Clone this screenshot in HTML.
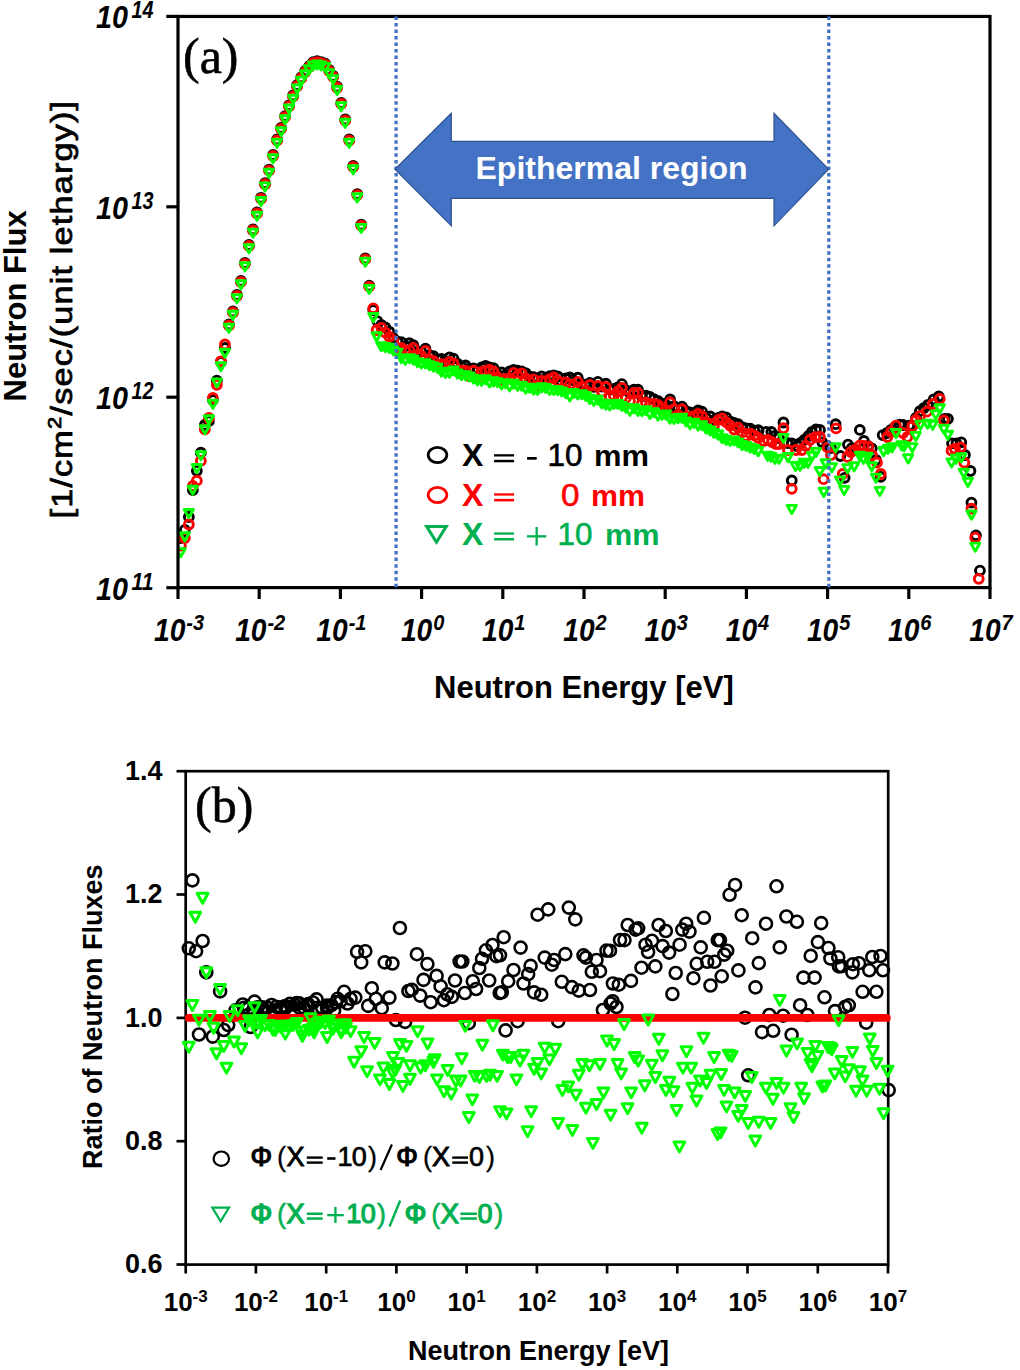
<!DOCTYPE html>
<html><head><meta charset="utf-8"><style>html,body{margin:0;padding:0;background:#fff;width:1020px;height:1370px;overflow:hidden}</style></head>
<body>
<svg width="1020" height="1370" viewBox="0 0 1020 1370" style="display:block">
<rect width="1020" height="1370" fill="#fff"/>
<clipPath id="clipA"><rect x="178.0" y="16.45" width="812.0" height="571.15"/></clipPath>
<g clip-path="url(#clipA)" fill="none">
<path d="M176.4,538.0a4.45,4.45 0 1,0 8.9,0a4.45,4.45 0 1,0 -8.9,0M180.4,530.0a4.45,4.45 0 1,0 8.9,0a4.45,4.45 0 1,0 -8.9,0M184.4,517.0a4.45,4.45 0 1,0 8.9,0a4.45,4.45 0 1,0 -8.9,0M188.4,490.0a4.45,4.45 0 1,0 8.9,0a4.45,4.45 0 1,0 -8.9,0M192.4,470.8a4.45,4.45 0 1,0 8.9,0a4.45,4.45 0 1,0 -8.9,0M196.4,452.7a4.45,4.45 0 1,0 8.9,0a4.45,4.45 0 1,0 -8.9,0M200.4,425.0a4.45,4.45 0 1,0 8.9,0a4.45,4.45 0 1,0 -8.9,0M204.4,421.2a4.45,4.45 0 1,0 8.9,0a4.45,4.45 0 1,0 -8.9,0M208.4,400.0a4.45,4.45 0 1,0 8.9,0a4.45,4.45 0 1,0 -8.9,0M212.4,380.7a4.45,4.45 0 1,0 8.9,0a4.45,4.45 0 1,0 -8.9,0M216.5,362.0a4.45,4.45 0 1,0 8.9,0a4.45,4.45 0 1,0 -8.9,0M220.5,348.0a4.45,4.45 0 1,0 8.9,0a4.45,4.45 0 1,0 -8.9,0M224.5,324.5a4.45,4.45 0 1,0 8.9,0a4.45,4.45 0 1,0 -8.9,0M228.5,311.5a4.45,4.45 0 1,0 8.9,0a4.45,4.45 0 1,0 -8.9,0M232.5,295.0a4.45,4.45 0 1,0 8.9,0a4.45,4.45 0 1,0 -8.9,0M236.5,281.0a4.45,4.45 0 1,0 8.9,0a4.45,4.45 0 1,0 -8.9,0M240.5,263.0a4.45,4.45 0 1,0 8.9,0a4.45,4.45 0 1,0 -8.9,0M244.5,245.0a4.45,4.45 0 1,0 8.9,0a4.45,4.45 0 1,0 -8.9,0M248.5,229.4a4.45,4.45 0 1,0 8.9,0a4.45,4.45 0 1,0 -8.9,0M252.5,212.5a4.45,4.45 0 1,0 8.9,0a4.45,4.45 0 1,0 -8.9,0M256.6,197.8a4.45,4.45 0 1,0 8.9,0a4.45,4.45 0 1,0 -8.9,0M260.6,183.2a4.45,4.45 0 1,0 8.9,0a4.45,4.45 0 1,0 -8.9,0M264.6,169.6a4.45,4.45 0 1,0 8.9,0a4.45,4.45 0 1,0 -8.9,0M268.6,155.0a4.45,4.45 0 1,0 8.9,0a4.45,4.45 0 1,0 -8.9,0M272.6,139.5a4.45,4.45 0 1,0 8.9,0a4.45,4.45 0 1,0 -8.9,0M276.6,127.9a4.45,4.45 0 1,0 8.9,0a4.45,4.45 0 1,0 -8.9,0M280.6,116.1a4.45,4.45 0 1,0 8.9,0a4.45,4.45 0 1,0 -8.9,0M284.6,105.3a4.45,4.45 0 1,0 8.9,0a4.45,4.45 0 1,0 -8.9,0M288.6,95.5a4.45,4.45 0 1,0 8.9,0a4.45,4.45 0 1,0 -8.9,0M292.6,85.2a4.45,4.45 0 1,0 8.9,0a4.45,4.45 0 1,0 -8.9,0M296.7,77.4a4.45,4.45 0 1,0 8.9,0a4.45,4.45 0 1,0 -8.9,0M300.7,71.0a4.45,4.45 0 1,0 8.9,0a4.45,4.45 0 1,0 -8.9,0M304.7,66.1a4.45,4.45 0 1,0 8.9,0a4.45,4.45 0 1,0 -8.9,0M308.7,62.2a4.45,4.45 0 1,0 8.9,0a4.45,4.45 0 1,0 -8.9,0M312.7,61.2a4.45,4.45 0 1,0 8.9,0a4.45,4.45 0 1,0 -8.9,0M316.7,62.2a4.45,4.45 0 1,0 8.9,0a4.45,4.45 0 1,0 -8.9,0M320.7,63.7a4.45,4.45 0 1,0 8.9,0a4.45,4.45 0 1,0 -8.9,0M324.7,70.0a4.45,4.45 0 1,0 8.9,0a4.45,4.45 0 1,0 -8.9,0M328.7,75.9a4.45,4.45 0 1,0 8.9,0a4.45,4.45 0 1,0 -8.9,0M332.7,86.7a4.45,4.45 0 1,0 8.9,0a4.45,4.45 0 1,0 -8.9,0M336.8,102.9a4.45,4.45 0 1,0 8.9,0a4.45,4.45 0 1,0 -8.9,0M340.8,119.5a4.45,4.45 0 1,0 8.9,0a4.45,4.45 0 1,0 -8.9,0M344.8,139.5a4.45,4.45 0 1,0 8.9,0a4.45,4.45 0 1,0 -8.9,0M348.8,166.0a4.45,4.45 0 1,0 8.9,0a4.45,4.45 0 1,0 -8.9,0M352.8,194.1a4.45,4.45 0 1,0 8.9,0a4.45,4.45 0 1,0 -8.9,0M356.8,224.7a4.45,4.45 0 1,0 8.9,0a4.45,4.45 0 1,0 -8.9,0M360.8,258.4a4.45,4.45 0 1,0 8.9,0a4.45,4.45 0 1,0 -8.9,0M364.8,285.7a4.45,4.45 0 1,0 8.9,0a4.45,4.45 0 1,0 -8.9,0M368.8,310.0a4.45,4.45 0 1,0 8.9,0a4.45,4.45 0 1,0 -8.9,0M372.9,321.1a4.45,4.45 0 1,0 8.9,0a4.45,4.45 0 1,0 -8.9,0M376.9,324.9a4.45,4.45 0 1,0 8.9,0a4.45,4.45 0 1,0 -8.9,0M380.9,327.4a4.45,4.45 0 1,0 8.9,0a4.45,4.45 0 1,0 -8.9,0M384.9,331.7a4.45,4.45 0 1,0 8.9,0a4.45,4.45 0 1,0 -8.9,0M388.9,338.1a4.45,4.45 0 1,0 8.9,0a4.45,4.45 0 1,0 -8.9,0M392.9,341.3a4.45,4.45 0 1,0 8.9,0a4.45,4.45 0 1,0 -8.9,0M396.9,342.2a4.45,4.45 0 1,0 8.9,0a4.45,4.45 0 1,0 -8.9,0M400.9,346.2a4.45,4.45 0 1,0 8.9,0a4.45,4.45 0 1,0 -8.9,0M404.9,343.2a4.45,4.45 0 1,0 8.9,0a4.45,4.45 0 1,0 -8.9,0M408.9,345.2a4.45,4.45 0 1,0 8.9,0a4.45,4.45 0 1,0 -8.9,0M412.9,351.7a4.45,4.45 0 1,0 8.9,0a4.45,4.45 0 1,0 -8.9,0M416.9,351.7a4.45,4.45 0 1,0 8.9,0a4.45,4.45 0 1,0 -8.9,0M421.0,348.7a4.45,4.45 0 1,0 8.9,0a4.45,4.45 0 1,0 -8.9,0M425.0,355.2a4.45,4.45 0 1,0 8.9,0a4.45,4.45 0 1,0 -8.9,0M429.0,356.1a4.45,4.45 0 1,0 8.9,0a4.45,4.45 0 1,0 -8.9,0M433.0,359.3a4.45,4.45 0 1,0 8.9,0a4.45,4.45 0 1,0 -8.9,0M437.0,359.0a4.45,4.45 0 1,0 8.9,0a4.45,4.45 0 1,0 -8.9,0M441.0,361.2a4.45,4.45 0 1,0 8.9,0a4.45,4.45 0 1,0 -8.9,0M445.0,357.3a4.45,4.45 0 1,0 8.9,0a4.45,4.45 0 1,0 -8.9,0M449.0,358.6a4.45,4.45 0 1,0 8.9,0a4.45,4.45 0 1,0 -8.9,0M453.0,363.7a4.45,4.45 0 1,0 8.9,0a4.45,4.45 0 1,0 -8.9,0M457.1,366.5a4.45,4.45 0 1,0 8.9,0a4.45,4.45 0 1,0 -8.9,0M461.1,365.4a4.45,4.45 0 1,0 8.9,0a4.45,4.45 0 1,0 -8.9,0M465.1,368.6a4.45,4.45 0 1,0 8.9,0a4.45,4.45 0 1,0 -8.9,0M469.1,368.4a4.45,4.45 0 1,0 8.9,0a4.45,4.45 0 1,0 -8.9,0M473.1,369.4a4.45,4.45 0 1,0 8.9,0a4.45,4.45 0 1,0 -8.9,0M477.1,367.5a4.45,4.45 0 1,0 8.9,0a4.45,4.45 0 1,0 -8.9,0M481.1,366.0a4.45,4.45 0 1,0 8.9,0a4.45,4.45 0 1,0 -8.9,0M485.1,367.4a4.45,4.45 0 1,0 8.9,0a4.45,4.45 0 1,0 -8.9,0M489.1,368.1a4.45,4.45 0 1,0 8.9,0a4.45,4.45 0 1,0 -8.9,0M493.1,374.6a4.45,4.45 0 1,0 8.9,0a4.45,4.45 0 1,0 -8.9,0M497.1,372.5a4.45,4.45 0 1,0 8.9,0a4.45,4.45 0 1,0 -8.9,0M501.2,375.2a4.45,4.45 0 1,0 8.9,0a4.45,4.45 0 1,0 -8.9,0M505.2,371.4a4.45,4.45 0 1,0 8.9,0a4.45,4.45 0 1,0 -8.9,0M509.2,369.9a4.45,4.45 0 1,0 8.9,0a4.45,4.45 0 1,0 -8.9,0M513.2,370.7a4.45,4.45 0 1,0 8.9,0a4.45,4.45 0 1,0 -8.9,0M517.2,371.4a4.45,4.45 0 1,0 8.9,0a4.45,4.45 0 1,0 -8.9,0M521.2,373.1a4.45,4.45 0 1,0 8.9,0a4.45,4.45 0 1,0 -8.9,0M525.2,376.5a4.45,4.45 0 1,0 8.9,0a4.45,4.45 0 1,0 -8.9,0M529.2,377.1a4.45,4.45 0 1,0 8.9,0a4.45,4.45 0 1,0 -8.9,0M533.2,378.8a4.45,4.45 0 1,0 8.9,0a4.45,4.45 0 1,0 -8.9,0M537.2,376.4a4.45,4.45 0 1,0 8.9,0a4.45,4.45 0 1,0 -8.9,0M541.3,378.9a4.45,4.45 0 1,0 8.9,0a4.45,4.45 0 1,0 -8.9,0M545.3,376.1a4.45,4.45 0 1,0 8.9,0a4.45,4.45 0 1,0 -8.9,0M549.3,375.5a4.45,4.45 0 1,0 8.9,0a4.45,4.45 0 1,0 -8.9,0M553.3,376.5a4.45,4.45 0 1,0 8.9,0a4.45,4.45 0 1,0 -8.9,0M557.3,383.1a4.45,4.45 0 1,0 8.9,0a4.45,4.45 0 1,0 -8.9,0M561.3,378.3a4.45,4.45 0 1,0 8.9,0a4.45,4.45 0 1,0 -8.9,0M565.3,377.5a4.45,4.45 0 1,0 8.9,0a4.45,4.45 0 1,0 -8.9,0M569.3,380.4a4.45,4.45 0 1,0 8.9,0a4.45,4.45 0 1,0 -8.9,0M573.3,377.7a4.45,4.45 0 1,0 8.9,0a4.45,4.45 0 1,0 -8.9,0M577.3,383.9a4.45,4.45 0 1,0 8.9,0a4.45,4.45 0 1,0 -8.9,0M581.4,385.5a4.45,4.45 0 1,0 8.9,0a4.45,4.45 0 1,0 -8.9,0M585.4,382.8a4.45,4.45 0 1,0 8.9,0a4.45,4.45 0 1,0 -8.9,0M589.4,386.9a4.45,4.45 0 1,0 8.9,0a4.45,4.45 0 1,0 -8.9,0M593.4,381.8a4.45,4.45 0 1,0 8.9,0a4.45,4.45 0 1,0 -8.9,0M597.4,386.5a4.45,4.45 0 1,0 8.9,0a4.45,4.45 0 1,0 -8.9,0M601.4,383.7a4.45,4.45 0 1,0 8.9,0a4.45,4.45 0 1,0 -8.9,0M605.4,389.6a4.45,4.45 0 1,0 8.9,0a4.45,4.45 0 1,0 -8.9,0M609.4,389.0a4.45,4.45 0 1,0 8.9,0a4.45,4.45 0 1,0 -8.9,0M613.4,387.3a4.45,4.45 0 1,0 8.9,0a4.45,4.45 0 1,0 -8.9,0M617.4,384.1a4.45,4.45 0 1,0 8.9,0a4.45,4.45 0 1,0 -8.9,0M621.5,390.2a4.45,4.45 0 1,0 8.9,0a4.45,4.45 0 1,0 -8.9,0M625.5,393.1a4.45,4.45 0 1,0 8.9,0a4.45,4.45 0 1,0 -8.9,0M629.5,389.7a4.45,4.45 0 1,0 8.9,0a4.45,4.45 0 1,0 -8.9,0M633.5,389.6a4.45,4.45 0 1,0 8.9,0a4.45,4.45 0 1,0 -8.9,0M637.5,396.4a4.45,4.45 0 1,0 8.9,0a4.45,4.45 0 1,0 -8.9,0M641.5,395.6a4.45,4.45 0 1,0 8.9,0a4.45,4.45 0 1,0 -8.9,0M645.5,397.0a4.45,4.45 0 1,0 8.9,0a4.45,4.45 0 1,0 -8.9,0M649.5,399.1a4.45,4.45 0 1,0 8.9,0a4.45,4.45 0 1,0 -8.9,0M653.5,400.8a4.45,4.45 0 1,0 8.9,0a4.45,4.45 0 1,0 -8.9,0M657.5,403.7a4.45,4.45 0 1,0 8.9,0a4.45,4.45 0 1,0 -8.9,0M661.6,404.9a4.45,4.45 0 1,0 8.9,0a4.45,4.45 0 1,0 -8.9,0M665.6,399.5a4.45,4.45 0 1,0 8.9,0a4.45,4.45 0 1,0 -8.9,0M669.6,406.2a4.45,4.45 0 1,0 8.9,0a4.45,4.45 0 1,0 -8.9,0M673.6,408.8a4.45,4.45 0 1,0 8.9,0a4.45,4.45 0 1,0 -8.9,0M677.6,406.6a4.45,4.45 0 1,0 8.9,0a4.45,4.45 0 1,0 -8.9,0M681.6,411.2a4.45,4.45 0 1,0 8.9,0a4.45,4.45 0 1,0 -8.9,0M685.6,412.3a4.45,4.45 0 1,0 8.9,0a4.45,4.45 0 1,0 -8.9,0M689.6,413.1a4.45,4.45 0 1,0 8.9,0a4.45,4.45 0 1,0 -8.9,0M693.6,410.5a4.45,4.45 0 1,0 8.9,0a4.45,4.45 0 1,0 -8.9,0M697.6,411.6a4.45,4.45 0 1,0 8.9,0a4.45,4.45 0 1,0 -8.9,0M701.7,417.9a4.45,4.45 0 1,0 8.9,0a4.45,4.45 0 1,0 -8.9,0M705.7,416.4a4.45,4.45 0 1,0 8.9,0a4.45,4.45 0 1,0 -8.9,0M709.7,420.1a4.45,4.45 0 1,0 8.9,0a4.45,4.45 0 1,0 -8.9,0M713.7,418.0a4.45,4.45 0 1,0 8.9,0a4.45,4.45 0 1,0 -8.9,0M717.7,416.4a4.45,4.45 0 1,0 8.9,0a4.45,4.45 0 1,0 -8.9,0M721.7,417.4a4.45,4.45 0 1,0 8.9,0a4.45,4.45 0 1,0 -8.9,0M725.7,421.5a4.45,4.45 0 1,0 8.9,0a4.45,4.45 0 1,0 -8.9,0M729.7,422.8a4.45,4.45 0 1,0 8.9,0a4.45,4.45 0 1,0 -8.9,0M733.7,424.2a4.45,4.45 0 1,0 8.9,0a4.45,4.45 0 1,0 -8.9,0M737.8,427.2a4.45,4.45 0 1,0 8.9,0a4.45,4.45 0 1,0 -8.9,0M741.8,428.5a4.45,4.45 0 1,0 8.9,0a4.45,4.45 0 1,0 -8.9,0M745.8,428.6a4.45,4.45 0 1,0 8.9,0a4.45,4.45 0 1,0 -8.9,0M749.8,430.6a4.45,4.45 0 1,0 8.9,0a4.45,4.45 0 1,0 -8.9,0M753.8,430.2a4.45,4.45 0 1,0 8.9,0a4.45,4.45 0 1,0 -8.9,0M754.1,430.8a4.45,4.45 0 1,0 8.9,0a4.45,4.45 0 1,0 -8.9,0M761.5,432.0a4.45,4.45 0 1,0 8.9,0a4.45,4.45 0 1,0 -8.9,0M766.9,432.0a4.45,4.45 0 1,0 8.9,0a4.45,4.45 0 1,0 -8.9,0M770.5,436.0a4.45,4.45 0 1,0 8.9,0a4.45,4.45 0 1,0 -8.9,0M774.5,438.0a4.45,4.45 0 1,0 8.9,0a4.45,4.45 0 1,0 -8.9,0M779.0,422.5a4.45,4.45 0 1,0 8.9,0a4.45,4.45 0 1,0 -8.9,0M783.0,443.0a4.45,4.45 0 1,0 8.9,0a4.45,4.45 0 1,0 -8.9,0M787.3,443.5a4.45,4.45 0 1,0 8.9,0a4.45,4.45 0 1,0 -8.9,0M787.3,480.5a4.45,4.45 0 1,0 8.9,0a4.45,4.45 0 1,0 -8.9,0M792.4,446.0a4.45,4.45 0 1,0 8.9,0a4.45,4.45 0 1,0 -8.9,0M796.0,443.0a4.45,4.45 0 1,0 8.9,0a4.45,4.45 0 1,0 -8.9,0M800.0,439.7a4.45,4.45 0 1,0 8.9,0a4.45,4.45 0 1,0 -8.9,0M804.0,436.0a4.45,4.45 0 1,0 8.9,0a4.45,4.45 0 1,0 -8.9,0M807.5,432.0a4.45,4.45 0 1,0 8.9,0a4.45,4.45 0 1,0 -8.9,0M811.5,429.5a4.45,4.45 0 1,0 8.9,0a4.45,4.45 0 1,0 -8.9,0M815.5,430.0a4.45,4.45 0 1,0 8.9,0a4.45,4.45 0 1,0 -8.9,0M817.9,442.3a4.45,4.45 0 1,0 8.9,0a4.45,4.45 0 1,0 -8.9,0M822.5,446.0a4.45,4.45 0 1,0 8.9,0a4.45,4.45 0 1,0 -8.9,0M826.5,448.0a4.45,4.45 0 1,0 8.9,0a4.45,4.45 0 1,0 -8.9,0M831.2,424.2a4.45,4.45 0 1,0 8.9,0a4.45,4.45 0 1,0 -8.9,0M835.9,456.0a4.45,4.45 0 1,0 8.9,0a4.45,4.45 0 1,0 -8.9,0M840.2,477.8a4.45,4.45 0 1,0 8.9,0a4.45,4.45 0 1,0 -8.9,0M843.5,444.6a4.45,4.45 0 1,0 8.9,0a4.45,4.45 0 1,0 -8.9,0M847.5,448.0a4.45,4.45 0 1,0 8.9,0a4.45,4.45 0 1,0 -8.9,0M851.5,450.0a4.45,4.45 0 1,0 8.9,0a4.45,4.45 0 1,0 -8.9,0M855.4,429.9a4.45,4.45 0 1,0 8.9,0a4.45,4.45 0 1,0 -8.9,0M859.5,441.0a4.45,4.45 0 1,0 8.9,0a4.45,4.45 0 1,0 -8.9,0M863.5,446.0a4.45,4.45 0 1,0 8.9,0a4.45,4.45 0 1,0 -8.9,0M867.3,448.4a4.45,4.45 0 1,0 8.9,0a4.45,4.45 0 1,0 -8.9,0M871.5,460.0a4.45,4.45 0 1,0 8.9,0a4.45,4.45 0 1,0 -8.9,0M876.3,476.9a4.45,4.45 0 1,0 8.9,0a4.45,4.45 0 1,0 -8.9,0M878.2,435.1a4.45,4.45 0 1,0 8.9,0a4.45,4.45 0 1,0 -8.9,0M882.5,433.0a4.45,4.45 0 1,0 8.9,0a4.45,4.45 0 1,0 -8.9,0M886.5,430.0a4.45,4.45 0 1,0 8.9,0a4.45,4.45 0 1,0 -8.9,0M890.5,427.0a4.45,4.45 0 1,0 8.9,0a4.45,4.45 0 1,0 -8.9,0M895.3,424.6a4.45,4.45 0 1,0 8.9,0a4.45,4.45 0 1,0 -8.9,0M898.6,425.0a4.45,4.45 0 1,0 8.9,0a4.45,4.45 0 1,0 -8.9,0M904.8,425.6a4.45,4.45 0 1,0 8.9,0a4.45,4.45 0 1,0 -8.9,0M907.8,426.0a4.45,4.45 0 1,0 8.9,0a4.45,4.45 0 1,0 -8.9,0M911.5,418.0a4.45,4.45 0 1,0 8.9,0a4.45,4.45 0 1,0 -8.9,0M915.4,411.2a4.45,4.45 0 1,0 8.9,0a4.45,4.45 0 1,0 -8.9,0M919.5,408.0a4.45,4.45 0 1,0 8.9,0a4.45,4.45 0 1,0 -8.9,0M923.5,405.0a4.45,4.45 0 1,0 8.9,0a4.45,4.45 0 1,0 -8.9,0M929.2,399.4a4.45,4.45 0 1,0 8.9,0a4.45,4.45 0 1,0 -8.9,0M934.3,396.5a4.45,4.45 0 1,0 8.9,0a4.45,4.45 0 1,0 -8.9,0M940.2,418.8a4.45,4.45 0 1,0 8.9,0a4.45,4.45 0 1,0 -8.9,0M943.5,418.8a4.45,4.45 0 1,0 8.9,0a4.45,4.45 0 1,0 -8.9,0M947.6,443.3a4.45,4.45 0 1,0 8.9,0a4.45,4.45 0 1,0 -8.9,0M952.0,443.5a4.45,4.45 0 1,0 8.9,0a4.45,4.45 0 1,0 -8.9,0M956.8,442.3a4.45,4.45 0 1,0 8.9,0a4.45,4.45 0 1,0 -8.9,0M960.5,455.0a4.45,4.45 0 1,0 8.9,0a4.45,4.45 0 1,0 -8.9,0M966.0,471.0a4.45,4.45 0 1,0 8.9,0a4.45,4.45 0 1,0 -8.9,0M967.0,502.6a4.45,4.45 0 1,0 8.9,0a4.45,4.45 0 1,0 -8.9,0M971.5,535.3a4.45,4.45 0 1,0 8.9,0a4.45,4.45 0 1,0 -8.9,0M975.5,570.6a4.45,4.45 0 1,0 8.9,0a4.45,4.45 0 1,0 -8.9,0" stroke="#000" stroke-width="2.9"/>
<path d="M176.4,545.5a4.45,4.45 0 1,0 8.9,0a4.45,4.45 0 1,0 -8.9,0M180.4,538.0a4.45,4.45 0 1,0 8.9,0a4.45,4.45 0 1,0 -8.9,0M184.4,524.5a4.45,4.45 0 1,0 8.9,0a4.45,4.45 0 1,0 -8.9,0M188.4,486.0a4.45,4.45 0 1,0 8.9,0a4.45,4.45 0 1,0 -8.9,0M192.4,480.7a4.45,4.45 0 1,0 8.9,0a4.45,4.45 0 1,0 -8.9,0M196.4,460.9a4.45,4.45 0 1,0 8.9,0a4.45,4.45 0 1,0 -8.9,0M200.4,429.3a4.45,4.45 0 1,0 8.9,0a4.45,4.45 0 1,0 -8.9,0M204.4,418.0a4.45,4.45 0 1,0 8.9,0a4.45,4.45 0 1,0 -8.9,0M208.4,398.0a4.45,4.45 0 1,0 8.9,0a4.45,4.45 0 1,0 -8.9,0M212.4,384.8a4.45,4.45 0 1,0 8.9,0a4.45,4.45 0 1,0 -8.9,0M216.5,361.3a4.45,4.45 0 1,0 8.9,0a4.45,4.45 0 1,0 -8.9,0M220.5,344.4a4.45,4.45 0 1,0 8.9,0a4.45,4.45 0 1,0 -8.9,0M224.5,325.5a4.45,4.45 0 1,0 8.9,0a4.45,4.45 0 1,0 -8.9,0M228.5,312.5a4.45,4.45 0 1,0 8.9,0a4.45,4.45 0 1,0 -8.9,0M232.5,296.0a4.45,4.45 0 1,0 8.9,0a4.45,4.45 0 1,0 -8.9,0M236.5,282.0a4.45,4.45 0 1,0 8.9,0a4.45,4.45 0 1,0 -8.9,0M240.5,264.0a4.45,4.45 0 1,0 8.9,0a4.45,4.45 0 1,0 -8.9,0M244.5,246.0a4.45,4.45 0 1,0 8.9,0a4.45,4.45 0 1,0 -8.9,0M248.5,230.4a4.45,4.45 0 1,0 8.9,0a4.45,4.45 0 1,0 -8.9,0M252.5,213.5a4.45,4.45 0 1,0 8.9,0a4.45,4.45 0 1,0 -8.9,0M256.6,198.8a4.45,4.45 0 1,0 8.9,0a4.45,4.45 0 1,0 -8.9,0M260.6,184.2a4.45,4.45 0 1,0 8.9,0a4.45,4.45 0 1,0 -8.9,0M264.6,170.6a4.45,4.45 0 1,0 8.9,0a4.45,4.45 0 1,0 -8.9,0M268.6,156.0a4.45,4.45 0 1,0 8.9,0a4.45,4.45 0 1,0 -8.9,0M272.6,140.5a4.45,4.45 0 1,0 8.9,0a4.45,4.45 0 1,0 -8.9,0M276.6,128.9a4.45,4.45 0 1,0 8.9,0a4.45,4.45 0 1,0 -8.9,0M280.6,117.1a4.45,4.45 0 1,0 8.9,0a4.45,4.45 0 1,0 -8.9,0M284.6,106.3a4.45,4.45 0 1,0 8.9,0a4.45,4.45 0 1,0 -8.9,0M288.6,96.5a4.45,4.45 0 1,0 8.9,0a4.45,4.45 0 1,0 -8.9,0M292.6,86.2a4.45,4.45 0 1,0 8.9,0a4.45,4.45 0 1,0 -8.9,0M296.7,78.4a4.45,4.45 0 1,0 8.9,0a4.45,4.45 0 1,0 -8.9,0M300.7,72.0a4.45,4.45 0 1,0 8.9,0a4.45,4.45 0 1,0 -8.9,0M304.7,67.1a4.45,4.45 0 1,0 8.9,0a4.45,4.45 0 1,0 -8.9,0M308.7,63.2a4.45,4.45 0 1,0 8.9,0a4.45,4.45 0 1,0 -8.9,0M312.7,62.2a4.45,4.45 0 1,0 8.9,0a4.45,4.45 0 1,0 -8.9,0M316.7,63.2a4.45,4.45 0 1,0 8.9,0a4.45,4.45 0 1,0 -8.9,0M320.7,64.7a4.45,4.45 0 1,0 8.9,0a4.45,4.45 0 1,0 -8.9,0M324.7,71.0a4.45,4.45 0 1,0 8.9,0a4.45,4.45 0 1,0 -8.9,0M328.7,76.9a4.45,4.45 0 1,0 8.9,0a4.45,4.45 0 1,0 -8.9,0M332.7,87.7a4.45,4.45 0 1,0 8.9,0a4.45,4.45 0 1,0 -8.9,0M336.8,103.9a4.45,4.45 0 1,0 8.9,0a4.45,4.45 0 1,0 -8.9,0M340.8,120.5a4.45,4.45 0 1,0 8.9,0a4.45,4.45 0 1,0 -8.9,0M344.8,140.5a4.45,4.45 0 1,0 8.9,0a4.45,4.45 0 1,0 -8.9,0M348.8,167.0a4.45,4.45 0 1,0 8.9,0a4.45,4.45 0 1,0 -8.9,0M352.8,195.1a4.45,4.45 0 1,0 8.9,0a4.45,4.45 0 1,0 -8.9,0M356.8,225.7a4.45,4.45 0 1,0 8.9,0a4.45,4.45 0 1,0 -8.9,0M360.8,259.4a4.45,4.45 0 1,0 8.9,0a4.45,4.45 0 1,0 -8.9,0M364.8,286.7a4.45,4.45 0 1,0 8.9,0a4.45,4.45 0 1,0 -8.9,0M368.8,308.3a4.45,4.45 0 1,0 8.9,0a4.45,4.45 0 1,0 -8.9,0M372.2,330.0a4.45,4.45 0 1,0 8.9,0a4.45,4.45 0 1,0 -8.9,0M376.9,327.8a4.45,4.45 0 1,0 8.9,0a4.45,4.45 0 1,0 -8.9,0M380.9,332.6a4.45,4.45 0 1,0 8.9,0a4.45,4.45 0 1,0 -8.9,0M384.9,336.8a4.45,4.45 0 1,0 8.9,0a4.45,4.45 0 1,0 -8.9,0M388.9,340.6a4.45,4.45 0 1,0 8.9,0a4.45,4.45 0 1,0 -8.9,0M392.9,348.2a4.45,4.45 0 1,0 8.9,0a4.45,4.45 0 1,0 -8.9,0M396.9,348.0a4.45,4.45 0 1,0 8.9,0a4.45,4.45 0 1,0 -8.9,0M400.9,350.6a4.45,4.45 0 1,0 8.9,0a4.45,4.45 0 1,0 -8.9,0M404.9,350.3a4.45,4.45 0 1,0 8.9,0a4.45,4.45 0 1,0 -8.9,0M408.9,347.9a4.45,4.45 0 1,0 8.9,0a4.45,4.45 0 1,0 -8.9,0M412.9,354.8a4.45,4.45 0 1,0 8.9,0a4.45,4.45 0 1,0 -8.9,0M416.9,355.9a4.45,4.45 0 1,0 8.9,0a4.45,4.45 0 1,0 -8.9,0M421.0,351.0a4.45,4.45 0 1,0 8.9,0a4.45,4.45 0 1,0 -8.9,0M425.0,359.8a4.45,4.45 0 1,0 8.9,0a4.45,4.45 0 1,0 -8.9,0M429.0,360.8a4.45,4.45 0 1,0 8.9,0a4.45,4.45 0 1,0 -8.9,0M433.0,365.5a4.45,4.45 0 1,0 8.9,0a4.45,4.45 0 1,0 -8.9,0M437.0,364.1a4.45,4.45 0 1,0 8.9,0a4.45,4.45 0 1,0 -8.9,0M441.0,364.9a4.45,4.45 0 1,0 8.9,0a4.45,4.45 0 1,0 -8.9,0M445.0,361.8a4.45,4.45 0 1,0 8.9,0a4.45,4.45 0 1,0 -8.9,0M449.0,363.5a4.45,4.45 0 1,0 8.9,0a4.45,4.45 0 1,0 -8.9,0M453.0,370.3a4.45,4.45 0 1,0 8.9,0a4.45,4.45 0 1,0 -8.9,0M457.1,370.3a4.45,4.45 0 1,0 8.9,0a4.45,4.45 0 1,0 -8.9,0M461.1,370.9a4.45,4.45 0 1,0 8.9,0a4.45,4.45 0 1,0 -8.9,0M465.1,376.2a4.45,4.45 0 1,0 8.9,0a4.45,4.45 0 1,0 -8.9,0M469.1,370.7a4.45,4.45 0 1,0 8.9,0a4.45,4.45 0 1,0 -8.9,0M473.1,377.4a4.45,4.45 0 1,0 8.9,0a4.45,4.45 0 1,0 -8.9,0M477.1,371.8a4.45,4.45 0 1,0 8.9,0a4.45,4.45 0 1,0 -8.9,0M481.1,370.8a4.45,4.45 0 1,0 8.9,0a4.45,4.45 0 1,0 -8.9,0M485.1,369.7a4.45,4.45 0 1,0 8.9,0a4.45,4.45 0 1,0 -8.9,0M489.1,371.6a4.45,4.45 0 1,0 8.9,0a4.45,4.45 0 1,0 -8.9,0M493.1,377.1a4.45,4.45 0 1,0 8.9,0a4.45,4.45 0 1,0 -8.9,0M497.1,379.8a4.45,4.45 0 1,0 8.9,0a4.45,4.45 0 1,0 -8.9,0M501.2,378.9a4.45,4.45 0 1,0 8.9,0a4.45,4.45 0 1,0 -8.9,0M505.2,378.7a4.45,4.45 0 1,0 8.9,0a4.45,4.45 0 1,0 -8.9,0M509.2,372.9a4.45,4.45 0 1,0 8.9,0a4.45,4.45 0 1,0 -8.9,0M513.2,375.7a4.45,4.45 0 1,0 8.9,0a4.45,4.45 0 1,0 -8.9,0M517.2,373.5a4.45,4.45 0 1,0 8.9,0a4.45,4.45 0 1,0 -8.9,0M521.2,378.5a4.45,4.45 0 1,0 8.9,0a4.45,4.45 0 1,0 -8.9,0M525.2,381.6a4.45,4.45 0 1,0 8.9,0a4.45,4.45 0 1,0 -8.9,0M529.2,379.5a4.45,4.45 0 1,0 8.9,0a4.45,4.45 0 1,0 -8.9,0M533.2,386.0a4.45,4.45 0 1,0 8.9,0a4.45,4.45 0 1,0 -8.9,0M537.2,380.8a4.45,4.45 0 1,0 8.9,0a4.45,4.45 0 1,0 -8.9,0M541.3,381.3a4.45,4.45 0 1,0 8.9,0a4.45,4.45 0 1,0 -8.9,0M545.3,379.1a4.45,4.45 0 1,0 8.9,0a4.45,4.45 0 1,0 -8.9,0M549.3,377.5a4.45,4.45 0 1,0 8.9,0a4.45,4.45 0 1,0 -8.9,0M553.3,380.7a4.45,4.45 0 1,0 8.9,0a4.45,4.45 0 1,0 -8.9,0M557.3,388.8a4.45,4.45 0 1,0 8.9,0a4.45,4.45 0 1,0 -8.9,0M561.3,382.4a4.45,4.45 0 1,0 8.9,0a4.45,4.45 0 1,0 -8.9,0M565.3,384.6a4.45,4.45 0 1,0 8.9,0a4.45,4.45 0 1,0 -8.9,0M569.3,385.3a4.45,4.45 0 1,0 8.9,0a4.45,4.45 0 1,0 -8.9,0M573.3,381.8a4.45,4.45 0 1,0 8.9,0a4.45,4.45 0 1,0 -8.9,0M577.3,386.9a4.45,4.45 0 1,0 8.9,0a4.45,4.45 0 1,0 -8.9,0M581.4,390.6a4.45,4.45 0 1,0 8.9,0a4.45,4.45 0 1,0 -8.9,0M585.4,385.0a4.45,4.45 0 1,0 8.9,0a4.45,4.45 0 1,0 -8.9,0M589.4,394.1a4.45,4.45 0 1,0 8.9,0a4.45,4.45 0 1,0 -8.9,0M593.4,386.0a4.45,4.45 0 1,0 8.9,0a4.45,4.45 0 1,0 -8.9,0M597.4,391.7a4.45,4.45 0 1,0 8.9,0a4.45,4.45 0 1,0 -8.9,0M601.4,387.0a4.45,4.45 0 1,0 8.9,0a4.45,4.45 0 1,0 -8.9,0M605.4,396.8a4.45,4.45 0 1,0 8.9,0a4.45,4.45 0 1,0 -8.9,0M609.4,395.5a4.45,4.45 0 1,0 8.9,0a4.45,4.45 0 1,0 -8.9,0M613.4,391.5a4.45,4.45 0 1,0 8.9,0a4.45,4.45 0 1,0 -8.9,0M617.4,387.8a4.45,4.45 0 1,0 8.9,0a4.45,4.45 0 1,0 -8.9,0M621.5,397.9a4.45,4.45 0 1,0 8.9,0a4.45,4.45 0 1,0 -8.9,0M625.5,401.0a4.45,4.45 0 1,0 8.9,0a4.45,4.45 0 1,0 -8.9,0M629.5,393.0a4.45,4.45 0 1,0 8.9,0a4.45,4.45 0 1,0 -8.9,0M633.5,392.8a4.45,4.45 0 1,0 8.9,0a4.45,4.45 0 1,0 -8.9,0M637.5,403.4a4.45,4.45 0 1,0 8.9,0a4.45,4.45 0 1,0 -8.9,0M641.5,402.4a4.45,4.45 0 1,0 8.9,0a4.45,4.45 0 1,0 -8.9,0M645.5,404.4a4.45,4.45 0 1,0 8.9,0a4.45,4.45 0 1,0 -8.9,0M649.5,404.0a4.45,4.45 0 1,0 8.9,0a4.45,4.45 0 1,0 -8.9,0M653.5,404.8a4.45,4.45 0 1,0 8.9,0a4.45,4.45 0 1,0 -8.9,0M657.5,408.1a4.45,4.45 0 1,0 8.9,0a4.45,4.45 0 1,0 -8.9,0M661.6,411.2a4.45,4.45 0 1,0 8.9,0a4.45,4.45 0 1,0 -8.9,0M665.6,402.5a4.45,4.45 0 1,0 8.9,0a4.45,4.45 0 1,0 -8.9,0M669.6,409.1a4.45,4.45 0 1,0 8.9,0a4.45,4.45 0 1,0 -8.9,0M673.6,414.8a4.45,4.45 0 1,0 8.9,0a4.45,4.45 0 1,0 -8.9,0M677.6,409.4a4.45,4.45 0 1,0 8.9,0a4.45,4.45 0 1,0 -8.9,0M681.6,417.1a4.45,4.45 0 1,0 8.9,0a4.45,4.45 0 1,0 -8.9,0M685.6,416.9a4.45,4.45 0 1,0 8.9,0a4.45,4.45 0 1,0 -8.9,0M689.6,416.4a4.45,4.45 0 1,0 8.9,0a4.45,4.45 0 1,0 -8.9,0M693.6,414.0a4.45,4.45 0 1,0 8.9,0a4.45,4.45 0 1,0 -8.9,0M697.6,416.1a4.45,4.45 0 1,0 8.9,0a4.45,4.45 0 1,0 -8.9,0M701.7,422.0a4.45,4.45 0 1,0 8.9,0a4.45,4.45 0 1,0 -8.9,0M705.7,423.8a4.45,4.45 0 1,0 8.9,0a4.45,4.45 0 1,0 -8.9,0M709.7,425.1a4.45,4.45 0 1,0 8.9,0a4.45,4.45 0 1,0 -8.9,0M713.7,420.1a4.45,4.45 0 1,0 8.9,0a4.45,4.45 0 1,0 -8.9,0M717.7,418.4a4.45,4.45 0 1,0 8.9,0a4.45,4.45 0 1,0 -8.9,0M721.7,422.2a4.45,4.45 0 1,0 8.9,0a4.45,4.45 0 1,0 -8.9,0M725.7,425.5a4.45,4.45 0 1,0 8.9,0a4.45,4.45 0 1,0 -8.9,0M729.7,429.5a4.45,4.45 0 1,0 8.9,0a4.45,4.45 0 1,0 -8.9,0M733.7,427.7a4.45,4.45 0 1,0 8.9,0a4.45,4.45 0 1,0 -8.9,0M737.8,432.3a4.45,4.45 0 1,0 8.9,0a4.45,4.45 0 1,0 -8.9,0M741.8,436.0a4.45,4.45 0 1,0 8.9,0a4.45,4.45 0 1,0 -8.9,0M745.8,433.7a4.45,4.45 0 1,0 8.9,0a4.45,4.45 0 1,0 -8.9,0M749.8,435.3a4.45,4.45 0 1,0 8.9,0a4.45,4.45 0 1,0 -8.9,0M753.8,437.9a4.45,4.45 0 1,0 8.9,0a4.45,4.45 0 1,0 -8.9,0M759.2,441.0a4.45,4.45 0 1,0 8.9,0a4.45,4.45 0 1,0 -8.9,0M763.5,440.0a4.45,4.45 0 1,0 8.9,0a4.45,4.45 0 1,0 -8.9,0M767.5,442.0a4.45,4.45 0 1,0 8.9,0a4.45,4.45 0 1,0 -8.9,0M771.5,444.0a4.45,4.45 0 1,0 8.9,0a4.45,4.45 0 1,0 -8.9,0M774.5,444.0a4.45,4.45 0 1,0 8.9,0a4.45,4.45 0 1,0 -8.9,0M779.0,428.2a4.45,4.45 0 1,0 8.9,0a4.45,4.45 0 1,0 -8.9,0M783.5,450.0a4.45,4.45 0 1,0 8.9,0a4.45,4.45 0 1,0 -8.9,0M787.3,488.8a4.45,4.45 0 1,0 8.9,0a4.45,4.45 0 1,0 -8.9,0M791.5,450.0a4.45,4.45 0 1,0 8.9,0a4.45,4.45 0 1,0 -8.9,0M797.5,450.0a4.45,4.45 0 1,0 8.9,0a4.45,4.45 0 1,0 -8.9,0M801.5,446.0a4.45,4.45 0 1,0 8.9,0a4.45,4.45 0 1,0 -8.9,0M805.5,440.0a4.45,4.45 0 1,0 8.9,0a4.45,4.45 0 1,0 -8.9,0M810.8,437.2a4.45,4.45 0 1,0 8.9,0a4.45,4.45 0 1,0 -8.9,0M815.5,437.0a4.45,4.45 0 1,0 8.9,0a4.45,4.45 0 1,0 -8.9,0M819.1,479.2a4.45,4.45 0 1,0 8.9,0a4.45,4.45 0 1,0 -8.9,0M823.1,447.4a4.45,4.45 0 1,0 8.9,0a4.45,4.45 0 1,0 -8.9,0M826.5,455.0a4.45,4.45 0 1,0 8.9,0a4.45,4.45 0 1,0 -8.9,0M831.6,428.4a4.45,4.45 0 1,0 8.9,0a4.45,4.45 0 1,0 -8.9,0M838.3,474.0a4.45,4.45 0 1,0 8.9,0a4.45,4.45 0 1,0 -8.9,0M843.0,456.9a4.45,4.45 0 1,0 8.9,0a4.45,4.45 0 1,0 -8.9,0M846.5,452.0a4.45,4.45 0 1,0 8.9,0a4.45,4.45 0 1,0 -8.9,0M850.5,450.0a4.45,4.45 0 1,0 8.9,0a4.45,4.45 0 1,0 -8.9,0M855.4,445.5a4.45,4.45 0 1,0 8.9,0a4.45,4.45 0 1,0 -8.9,0M859.5,446.0a4.45,4.45 0 1,0 8.9,0a4.45,4.45 0 1,0 -8.9,0M863.9,446.5a4.45,4.45 0 1,0 8.9,0a4.45,4.45 0 1,0 -8.9,0M867.5,455.0a4.45,4.45 0 1,0 8.9,0a4.45,4.45 0 1,0 -8.9,0M872.5,462.6a4.45,4.45 0 1,0 8.9,0a4.45,4.45 0 1,0 -8.9,0M876.3,474.0a4.45,4.45 0 1,0 8.9,0a4.45,4.45 0 1,0 -8.9,0M882.9,437.0a4.45,4.45 0 1,0 8.9,0a4.45,4.45 0 1,0 -8.9,0M886.5,432.0a4.45,4.45 0 1,0 8.9,0a4.45,4.45 0 1,0 -8.9,0M891.5,425.6a4.45,4.45 0 1,0 8.9,0a4.45,4.45 0 1,0 -8.9,0M898.6,433.0a4.45,4.45 0 1,0 8.9,0a4.45,4.45 0 1,0 -8.9,0M902.9,437.0a4.45,4.45 0 1,0 8.9,0a4.45,4.45 0 1,0 -8.9,0M907.8,426.0a4.45,4.45 0 1,0 8.9,0a4.45,4.45 0 1,0 -8.9,0M911.5,420.0a4.45,4.45 0 1,0 8.9,0a4.45,4.45 0 1,0 -8.9,0M915.5,416.0a4.45,4.45 0 1,0 8.9,0a4.45,4.45 0 1,0 -8.9,0M922.5,411.7a4.45,4.45 0 1,0 8.9,0a4.45,4.45 0 1,0 -8.9,0M928.5,404.0a4.45,4.45 0 1,0 8.9,0a4.45,4.45 0 1,0 -8.9,0M935.3,398.9a4.45,4.45 0 1,0 8.9,0a4.45,4.45 0 1,0 -8.9,0M939.4,420.4a4.45,4.45 0 1,0 8.9,0a4.45,4.45 0 1,0 -8.9,0M947.1,450.5a4.45,4.45 0 1,0 8.9,0a4.45,4.45 0 1,0 -8.9,0M950.5,449.0a4.45,4.45 0 1,0 8.9,0a4.45,4.45 0 1,0 -8.9,0M956.3,447.4a4.45,4.45 0 1,0 8.9,0a4.45,4.45 0 1,0 -8.9,0M959.9,462.7a4.45,4.45 0 1,0 8.9,0a4.45,4.45 0 1,0 -8.9,0M967.0,508.7a4.45,4.45 0 1,0 8.9,0a4.45,4.45 0 1,0 -8.9,0M970.8,537.6a4.45,4.45 0 1,0 8.9,0a4.45,4.45 0 1,0 -8.9,0M974.3,578.8a4.45,4.45 0 1,0 8.9,0a4.45,4.45 0 1,0 -8.9,0" stroke="#FF0000" stroke-width="2.9"/>
<path d="M176.2,548.6L185.4,548.6L180.8,556.8ZM180.2,532.8L189.4,532.8L184.8,541.0ZM184.2,509.5L193.4,509.5L188.8,517.7ZM188.2,486.1L197.4,486.1L192.8,494.3ZM192.2,464.5L201.4,464.5L196.8,472.7ZM196.3,451.7L205.5,451.7L200.9,459.9ZM200.3,425.7L209.5,425.7L204.9,433.9ZM204.3,415.7L213.5,415.7L208.9,423.9ZM208.3,400.2L217.5,400.2L212.9,408.4ZM212.3,378.9L221.5,378.9L216.9,387.1ZM216.3,362.6L225.5,362.6L220.9,370.8ZM220.3,349.2L229.5,349.2L224.9,357.4ZM224.3,324.2L233.5,324.2L228.9,332.4ZM228.3,311.2L237.5,311.2L232.9,319.4ZM232.3,294.7L241.5,294.7L236.9,302.9ZM236.4,280.7L245.6,280.7L241.0,288.9ZM240.4,262.7L249.6,262.7L245.0,270.9ZM244.4,244.7L253.6,244.7L249.0,252.9ZM248.4,229.1L257.6,229.1L253.0,237.3ZM252.4,212.2L261.6,212.2L257.0,220.4ZM256.4,197.5L265.6,197.5L261.0,205.7ZM260.4,182.9L269.6,182.9L265.0,191.1ZM264.4,169.3L273.6,169.3L269.0,177.5ZM268.4,154.7L277.6,154.7L273.0,162.9ZM272.4,139.2L281.6,139.2L277.0,147.4ZM276.4,127.6L285.7,127.6L281.1,135.8ZM280.5,115.8L289.7,115.8L285.1,124.0ZM284.5,105.0L293.7,105.0L289.1,113.2ZM288.5,95.2L297.7,95.2L293.1,103.4ZM292.5,84.9L301.7,84.9L297.1,93.1ZM296.5,77.1L305.7,77.1L301.1,85.3ZM300.5,70.7L309.7,70.7L305.1,78.9ZM304.5,65.8L313.7,65.8L309.1,74.0ZM308.5,61.9L317.7,61.9L313.1,70.1ZM312.5,60.9L321.7,60.9L317.1,69.1ZM316.5,61.9L325.8,61.9L321.1,70.1ZM320.6,63.4L329.8,63.4L325.2,71.6ZM324.6,69.7L333.8,69.7L329.2,77.9ZM328.6,75.6L337.8,75.6L333.2,83.8ZM332.6,86.4L341.8,86.4L337.2,94.6ZM336.6,102.6L345.8,102.6L341.2,110.8ZM340.6,119.2L349.8,119.2L345.2,127.4ZM344.6,139.2L353.8,139.2L349.2,147.4ZM348.6,165.7L357.8,165.7L353.2,173.9ZM352.6,193.8L361.8,193.8L357.2,202.0ZM356.6,224.4L365.9,224.4L361.2,232.6ZM360.7,258.1L369.9,258.1L365.3,266.3ZM364.7,285.4L373.9,285.4L369.3,293.6ZM368.7,313.5L377.9,313.5L373.3,321.7ZM372.0,332.8L381.2,332.8L376.6,341.0ZM376.7,342.6L385.9,342.6L381.3,350.8ZM380.7,343.5L389.9,343.5L385.3,351.7ZM384.7,344.3L393.9,344.3L389.3,352.5ZM388.7,346.7L397.9,346.7L393.3,354.9ZM392.7,349.1L401.9,349.1L397.3,357.3ZM396.8,354.6L406.0,354.6L401.4,362.8ZM400.8,356.2L410.0,356.2L405.4,364.4ZM404.8,354.6L414.0,354.6L409.4,362.8ZM408.8,356.0L418.0,356.0L413.4,364.2ZM412.8,358.6L422.0,358.6L417.4,366.8ZM416.8,359.9L426.0,359.9L421.4,368.1ZM420.8,359.8L430.0,359.8L425.4,368.0ZM424.8,361.7L434.0,361.7L429.4,369.9ZM428.8,363.0L438.0,363.0L433.4,371.2ZM432.8,364.2L442.0,364.2L437.4,372.4ZM436.8,368.1L446.1,368.1L441.4,376.3ZM440.9,369.4L450.1,369.4L445.5,377.6ZM444.9,369.2L454.1,369.2L449.5,377.4ZM448.9,366.9L458.1,366.9L453.5,375.1ZM452.9,370.0L462.1,370.0L457.5,378.2ZM456.9,371.5L466.1,371.5L461.5,379.7ZM460.9,371.7L470.1,371.7L465.5,379.9ZM464.9,372.9L474.1,372.9L469.5,381.1ZM468.9,375.1L478.1,375.1L473.5,383.3ZM472.9,376.9L482.1,376.9L477.5,385.1ZM476.9,377.2L486.2,377.2L481.6,385.4ZM481.0,375.6L490.2,375.6L485.6,383.8ZM485.0,378.8L494.2,378.8L489.6,387.0ZM489.0,377.8L498.2,377.8L493.6,386.0ZM493.0,378.6L502.2,378.6L497.6,386.8ZM497.0,380.8L506.2,380.8L501.6,389.0ZM501.0,379.7L510.2,379.7L505.6,387.9ZM505.0,382.7L514.2,382.7L509.6,390.9ZM509.0,380.1L518.2,380.1L513.6,388.3ZM513.0,382.2L522.2,382.2L517.6,390.4ZM517.0,382.1L526.2,382.1L521.6,390.3ZM521.1,385.0L530.3,385.0L525.7,393.2ZM525.1,384.2L534.3,384.2L529.7,392.4ZM529.1,386.0L538.3,386.0L533.7,394.2ZM533.1,386.2L542.3,386.2L537.7,394.4ZM537.1,383.8L546.3,383.8L541.7,392.0ZM541.1,384.4L550.3,384.4L545.7,392.6ZM545.1,386.4L554.3,386.4L549.7,394.6ZM549.1,386.4L558.3,386.4L553.7,394.6ZM553.1,386.7L562.3,386.7L557.7,394.9ZM557.1,387.9L566.4,387.9L561.8,396.1ZM561.2,389.5L570.4,389.5L565.8,397.7ZM565.2,392.8L574.4,392.8L569.8,401.0ZM569.2,389.4L578.4,389.4L573.8,397.6ZM573.2,390.8L582.4,390.8L577.8,399.0ZM577.2,390.6L586.4,390.6L581.8,398.8ZM581.2,392.4L590.4,392.4L585.8,400.6ZM585.2,395.3L594.4,395.3L589.8,403.5ZM589.2,397.2L598.4,397.2L593.8,405.4ZM593.2,396.1L602.4,396.1L597.8,404.3ZM597.2,399.9L606.4,399.9L601.8,408.1ZM601.3,401.0L610.5,401.0L605.9,409.2ZM605.3,401.9L614.5,401.9L609.9,410.1ZM609.3,400.3L618.5,400.3L613.9,408.5ZM613.3,400.4L622.5,400.4L617.9,408.6ZM617.3,402.4L626.5,402.4L621.9,410.6ZM621.3,404.1L630.5,404.1L625.9,412.3ZM625.3,407.2L634.5,407.2L629.9,415.4ZM629.3,404.8L638.5,404.8L633.9,413.0ZM633.3,407.3L642.5,407.3L637.9,415.5ZM637.4,407.5L646.6,407.5L642.0,415.7ZM641.4,406.6L650.6,406.6L646.0,414.8ZM645.4,410.4L654.6,410.4L650.0,418.6ZM649.4,408.6L658.6,408.6L654.0,416.8ZM653.4,412.1L662.6,412.1L658.0,420.3ZM657.4,411.2L666.6,411.2L662.0,419.4ZM661.4,411.0L670.6,411.0L666.0,419.2ZM665.4,415.0L674.6,415.0L670.0,423.2ZM669.4,415.4L678.6,415.4L674.0,423.6ZM673.4,414.5L682.6,414.5L678.0,422.7ZM677.4,414.3L686.6,414.3L682.0,422.5ZM681.5,417.9L690.7,417.9L686.1,426.1ZM685.5,420.7L694.7,420.7L690.1,428.9ZM689.5,419.2L698.7,419.2L694.1,427.4ZM693.5,422.0L702.7,422.0L698.1,430.2ZM697.5,421.6L706.7,421.6L702.1,429.8ZM701.5,425.1L710.7,425.1L706.1,433.3ZM705.5,426.9L714.7,426.9L710.1,435.1ZM709.5,429.4L718.7,429.4L714.1,437.6ZM713.5,431.0L722.7,431.0L718.1,439.2ZM717.6,434.6L726.8,434.6L722.2,442.8ZM721.6,436.3L730.8,436.3L726.2,444.5ZM725.6,437.3L734.8,437.3L730.2,445.5ZM729.6,436.9L738.8,436.9L734.2,445.1ZM733.6,438.9L742.8,438.9L738.2,447.1ZM737.6,441.5L746.8,441.5L742.2,449.7ZM741.6,442.4L750.8,442.4L746.2,450.6ZM745.6,444.0L754.8,444.0L750.2,452.2ZM749.6,445.4L758.8,445.4L754.2,453.6ZM753.6,447.5L762.8,447.5L758.2,455.7ZM762.9,452.2L772.1,452.2L767.5,460.4ZM766.4,453.2L775.6,453.2L771.0,461.4ZM770.4,455.2L779.6,455.2L775.0,463.4ZM774.4,455.2L783.6,455.2L779.0,463.4ZM778.9,434.4L788.1,434.4L783.5,442.6ZM783.4,453.5L792.6,453.5L788.0,461.7ZM787.2,505.4L796.4,505.4L791.8,513.6ZM791.0,462.4L800.2,462.4L795.6,470.6ZM795.4,462.2L804.6,462.2L800.0,470.4ZM799.4,459.2L808.6,459.2L804.0,467.4ZM803.4,459.2L812.6,459.2L808.0,467.4ZM807.4,452.2L816.6,452.2L812.0,460.4ZM811.4,448.4L820.6,448.4L816.0,456.6ZM815.2,467.5L824.4,467.5L819.8,475.7ZM819.2,488.3L828.4,488.3L823.8,496.5ZM821.1,459.8L830.3,459.8L825.7,468.0ZM827.3,463.6L836.5,463.6L831.9,471.8ZM831.1,443.7L840.3,443.7L835.7,451.9ZM835.4,476.9L844.6,476.9L840.0,485.1ZM839.6,486.4L848.8,486.4L844.2,494.6ZM842.9,464.6L852.1,464.6L847.5,472.8ZM849.6,462.7L858.8,462.7L854.2,470.9ZM855.3,452.2L864.5,452.2L859.9,460.4ZM858.9,455.2L868.1,455.2L863.5,463.4ZM862.9,453.2L872.1,453.2L867.5,461.4ZM867.2,462.7L876.4,462.7L871.8,470.9ZM871.4,474.1L880.6,474.1L876.0,482.3ZM875.2,487.4L884.4,487.4L879.8,495.6ZM879.0,447.5L888.2,447.5L883.6,455.7ZM883.4,445.2L892.6,445.2L888.0,453.4ZM887.6,443.7L896.8,443.7L892.2,451.9ZM891.4,429.5L900.6,429.5L896.0,437.7ZM897.1,441.8L906.3,441.8L901.7,450.0ZM899.5,442.6L908.7,442.6L904.1,450.8ZM903.6,454.8L912.8,454.8L908.2,463.0ZM907.7,443.6L916.9,443.6L912.3,451.8ZM911.2,432.4L920.4,432.4L915.8,440.6ZM915.8,421.2L925.0,421.2L920.4,429.4ZM923.0,420.1L932.2,420.1L927.6,428.3ZM928.1,421.2L937.3,421.2L932.7,429.4ZM931.2,410.9L940.4,410.9L935.8,419.1ZM935.2,404.8L944.4,404.8L939.8,413.0ZM939.3,425.2L948.5,425.2L943.9,433.4ZM943.4,431.3L952.6,431.3L948.0,439.5ZM947.0,458.9L956.2,458.9L951.6,467.1ZM951.4,455.2L960.6,455.2L956.0,463.4ZM956.7,453.8L965.9,453.8L961.3,462.0ZM959.2,469.2L968.4,469.2L963.8,477.4ZM963.3,478.3L972.5,478.3L967.9,486.5ZM966.9,511.0L976.1,511.0L971.5,519.2ZM970.7,543.1L979.9,543.1L975.3,551.3Z" stroke="#00FF00" stroke-width="2.9" stroke-linejoin="round"/>
</g>
<g stroke="#000" stroke-width="3.2" fill="none" stroke-linecap="butt">
<rect x="178.0" y="16.45" width="812.0" height="571.15"/>
<line x1="166.3" y1="16.4" x2="178.0" y2="16.4"/>
<line x1="166.3" y1="206.8" x2="178.0" y2="206.8"/>
<line x1="166.3" y1="397.2" x2="178.0" y2="397.2"/>
<line x1="166.3" y1="587.7" x2="178.0" y2="587.7"/>
<line x1="178.0" y1="587.6" x2="178.0" y2="599"/>
<line x1="259.2" y1="587.6" x2="259.2" y2="599"/>
<line x1="340.4" y1="587.6" x2="340.4" y2="599"/>
<line x1="421.6" y1="587.6" x2="421.6" y2="599"/>
<line x1="502.8" y1="587.6" x2="502.8" y2="599"/>
<line x1="584.0" y1="587.6" x2="584.0" y2="599"/>
<line x1="665.2" y1="587.6" x2="665.2" y2="599"/>
<line x1="746.4" y1="587.6" x2="746.4" y2="599"/>
<line x1="827.6" y1="587.6" x2="827.6" y2="599"/>
<line x1="908.8" y1="587.6" x2="908.8" y2="599"/>
<line x1="990.0" y1="587.6" x2="990.0" y2="599"/>
</g>
<text x="96" y="28.2" font-family='"Liberation Sans", sans-serif' font-weight="bold" font-style="italic" font-size="31" textLength="32" lengthAdjust="spacingAndGlyphs">10</text>
<text x="131.5" y="18.4" font-family='"Liberation Sans", sans-serif' font-weight="bold" font-style="italic" font-size="23" textLength="22" lengthAdjust="spacingAndGlyphs">14</text>
<text x="96" y="218.7" font-family='"Liberation Sans", sans-serif' font-weight="bold" font-style="italic" font-size="31" textLength="32" lengthAdjust="spacingAndGlyphs">10</text>
<text x="131.5" y="208.8" font-family='"Liberation Sans", sans-serif' font-weight="bold" font-style="italic" font-size="23" textLength="22" lengthAdjust="spacingAndGlyphs">13</text>
<text x="96" y="409.1" font-family='"Liberation Sans", sans-serif' font-weight="bold" font-style="italic" font-size="31" textLength="32" lengthAdjust="spacingAndGlyphs">10</text>
<text x="131.5" y="399.2" font-family='"Liberation Sans", sans-serif' font-weight="bold" font-style="italic" font-size="23" textLength="22" lengthAdjust="spacingAndGlyphs">12</text>
<text x="96" y="599.5" font-family='"Liberation Sans", sans-serif' font-weight="bold" font-style="italic" font-size="31" textLength="32" lengthAdjust="spacingAndGlyphs">10</text>
<text x="131.5" y="589.7" font-family='"Liberation Sans", sans-serif' font-weight="bold" font-style="italic" font-size="23" textLength="22" lengthAdjust="spacingAndGlyphs">11</text>
<text transform="translate(179.0,641) scale(0.91,1)" text-anchor="middle" font-family='"Liberation Sans", sans-serif' font-weight="bold" font-style="italic" font-size="31">10<tspan font-size="22" dy="-11" dx="1">-3</tspan></text>
<text transform="translate(260.2,641) scale(0.91,1)" text-anchor="middle" font-family='"Liberation Sans", sans-serif' font-weight="bold" font-style="italic" font-size="31">10<tspan font-size="22" dy="-11" dx="1">-2</tspan></text>
<text transform="translate(341.4,641) scale(0.91,1)" text-anchor="middle" font-family='"Liberation Sans", sans-serif' font-weight="bold" font-style="italic" font-size="31">10<tspan font-size="22" dy="-11" dx="1">-1</tspan></text>
<text transform="translate(422.6,641) scale(0.91,1)" text-anchor="middle" font-family='"Liberation Sans", sans-serif' font-weight="bold" font-style="italic" font-size="31">10<tspan font-size="22" dy="-11" dx="1">0</tspan></text>
<text transform="translate(503.8,641) scale(0.91,1)" text-anchor="middle" font-family='"Liberation Sans", sans-serif' font-weight="bold" font-style="italic" font-size="31">10<tspan font-size="22" dy="-11" dx="1">1</tspan></text>
<text transform="translate(585.0,641) scale(0.91,1)" text-anchor="middle" font-family='"Liberation Sans", sans-serif' font-weight="bold" font-style="italic" font-size="31">10<tspan font-size="22" dy="-11" dx="1">2</tspan></text>
<text transform="translate(666.2,641) scale(0.91,1)" text-anchor="middle" font-family='"Liberation Sans", sans-serif' font-weight="bold" font-style="italic" font-size="31">10<tspan font-size="22" dy="-11" dx="1">3</tspan></text>
<text transform="translate(747.4,641) scale(0.91,1)" text-anchor="middle" font-family='"Liberation Sans", sans-serif' font-weight="bold" font-style="italic" font-size="31">10<tspan font-size="22" dy="-11" dx="1">4</tspan></text>
<text transform="translate(828.6,641) scale(0.91,1)" text-anchor="middle" font-family='"Liberation Sans", sans-serif' font-weight="bold" font-style="italic" font-size="31">10<tspan font-size="22" dy="-11" dx="1">5</tspan></text>
<text transform="translate(909.8,641) scale(0.91,1)" text-anchor="middle" font-family='"Liberation Sans", sans-serif' font-weight="bold" font-style="italic" font-size="31">10<tspan font-size="22" dy="-11" dx="1">6</tspan></text>
<text transform="translate(991.0,641) scale(0.91,1)" text-anchor="middle" font-family='"Liberation Sans", sans-serif' font-weight="bold" font-style="italic" font-size="31">10<tspan font-size="22" dy="-11" dx="1">7</tspan></text>
<text x="434" y="698.3" font-family='"Liberation Sans", sans-serif' font-weight="bold" font-size="31">Neutron Energy [eV]</text>
<text transform="translate(25.7,401.5) rotate(-90)" font-family='"Liberation Sans", sans-serif' font-weight="bold" font-size="31">Neutron Flux</text>
<text transform="translate(71.5,518.5) rotate(-90) scale(1.16,1)" font-family='"Liberation Sans", sans-serif' font-size="29.5" stroke="#000" stroke-width="0.75" textLength="360" lengthAdjust="spacing">[1/cm<tspan font-size="19" dy="-11">2</tspan><tspan dy="11">/sec/(unit lethargy)]</tspan></text>
<text x="183" y="73" font-family='"Liberation Serif", serif' font-size="50" stroke="#000" stroke-width="0.6">(a)</text>
<line x1="396.1" y1="16.45" x2="396.1" y2="587.6" stroke="#4472C4" stroke-width="3.3" stroke-dasharray="3.5 3.02"/>
<line x1="828.8" y1="16.45" x2="828.8" y2="587.6" stroke="#4472C4" stroke-width="3.3" stroke-dasharray="3.5 3.02"/>
<path d="M395,169.2 L451.3,113.3 L451.3,141.3 L774,141.3 L774,113.3 L828.6,169.3 L774,225.8 L774,198.3 L451.3,198.3 L451.3,225.8 Z" fill="#4472C4" stroke="#2F528F" stroke-width="1.2"/>
<text x="475.5" y="179.2" font-family='"Liberation Sans", sans-serif' font-weight="bold" font-size="31" fill="#fff" textLength="272" lengthAdjust="spacingAndGlyphs">Epithermal region</text>
<ellipse cx="437.5" cy="455" rx="9.3" ry="7.7" fill="none" stroke="#000" stroke-width="2.8"/>
<ellipse cx="437.5" cy="495" rx="9.3" ry="7.7" fill="none" stroke="#FF0000" stroke-width="2.8"/>
<path d="M426.6,526.4 L446.3,526.4 L436.45,542.2 Z" fill="none" stroke="#00B050" stroke-width="3" stroke-linejoin="miter"/>
<g fill="#000">
<text x="462" y="466.4" font-family='"Liberation Sans", sans-serif' font-weight="bold" font-size="32">X</text>
<rect x="494.1" y="454.2" width="20" height="2.3"/><rect x="494.1" y="459.8" width="20" height="2.5"/>
<text x="547.5" y="466.4" font-family='"Liberation Sans", sans-serif' font-size="32" stroke="#000" stroke-width="0.6" textLength="35" lengthAdjust="spacingAndGlyphs">10</text>
<text x="594" y="466.4" font-family='"Liberation Sans", sans-serif' font-weight="bold" font-size="30" textLength="55" lengthAdjust="spacingAndGlyphs">mm</text>
</g>
<rect x="527" y="457" width="9.7" height="2.7" fill="#000"/>
<g fill="#FF0000">
<text x="462" y="505.7" font-family='"Liberation Sans", sans-serif' font-weight="bold" font-size="32">X</text>
<rect x="494.1" y="493.3" width="20" height="2.3"/><rect x="494.1" y="498.90000000000003" width="20" height="2.5"/>
<text x="561" y="505.7" font-family='"Liberation Sans", sans-serif' font-size="32" stroke="#FF0000" stroke-width="0.6" textLength="18.5" lengthAdjust="spacingAndGlyphs">0</text>
<text x="591" y="505.7" font-family='"Liberation Sans", sans-serif' font-weight="bold" font-size="30" textLength="54" lengthAdjust="spacingAndGlyphs">mm</text>
</g>
<g fill="#00B050">
<text x="462" y="544.8" font-family='"Liberation Sans", sans-serif' font-weight="bold" font-size="32">X</text>
<rect x="494.1" y="532.4" width="20" height="2.3"/><rect x="494.1" y="538.0" width="20" height="2.5"/>
<text x="557.5" y="544.8" font-family='"Liberation Sans", sans-serif' font-size="32" stroke="#00B050" stroke-width="0.6" textLength="35" lengthAdjust="spacingAndGlyphs">10</text>
<text x="605" y="544.8" font-family='"Liberation Sans", sans-serif' font-weight="bold" font-size="30" textLength="54.5" lengthAdjust="spacingAndGlyphs">mm</text>
</g>
<rect x="527" y="535.2" width="19.3" height="2.3" fill="#00B050"/><rect x="535.5" y="527" width="2.3" height="18.5" fill="#00B050"/>
<g stroke="#000" stroke-width="2.7" fill="none">
<rect x="185.7" y="771.2" width="702.5" height="493.39999999999986"/>
<line x1="176.5" y1="771.2" x2="185.7" y2="771.2"/>
<line x1="176.5" y1="894.5" x2="185.7" y2="894.5"/>
<line x1="176.5" y1="1017.9" x2="185.7" y2="1017.9"/>
<line x1="176.5" y1="1141.2" x2="185.7" y2="1141.2"/>
<line x1="176.5" y1="1264.5" x2="185.7" y2="1264.5"/>
<line x1="185.7" y1="1264.6" x2="185.7" y2="1273.5"/>
<line x1="255.9" y1="1264.6" x2="255.9" y2="1273.5"/>
<line x1="326.2" y1="1264.6" x2="326.2" y2="1273.5"/>
<line x1="396.4" y1="1264.6" x2="396.4" y2="1273.5"/>
<line x1="466.6" y1="1264.6" x2="466.6" y2="1273.5"/>
<line x1="536.9" y1="1264.6" x2="536.9" y2="1273.5"/>
<line x1="607.1" y1="1264.6" x2="607.1" y2="1273.5"/>
<line x1="677.3" y1="1264.6" x2="677.3" y2="1273.5"/>
<line x1="747.5" y1="1264.6" x2="747.5" y2="1273.5"/>
<line x1="817.8" y1="1264.6" x2="817.8" y2="1273.5"/>
<line x1="888.0" y1="1264.6" x2="888.0" y2="1273.5"/>
</g>
<text x="162.5" y="780.0" text-anchor="end" font-family='"Liberation Sans", sans-serif' font-weight="bold" font-size="27">1.4</text>
<text x="162.5" y="903.3" text-anchor="end" font-family='"Liberation Sans", sans-serif' font-weight="bold" font-size="27">1.2</text>
<text x="162.5" y="1026.7" text-anchor="end" font-family='"Liberation Sans", sans-serif' font-weight="bold" font-size="27">1.0</text>
<text x="162.5" y="1150.0" text-anchor="end" font-family='"Liberation Sans", sans-serif' font-weight="bold" font-size="27">0.8</text>
<text x="162.5" y="1273.3" text-anchor="end" font-family='"Liberation Sans", sans-serif' font-weight="bold" font-size="27">0.6</text>
<text x="185.7" y="1311" text-anchor="middle" font-family='"Liberation Sans", sans-serif' font-weight="bold" font-size="26">10<tspan font-size="17" dy="-9">-3</tspan></text>
<text x="255.9" y="1311" text-anchor="middle" font-family='"Liberation Sans", sans-serif' font-weight="bold" font-size="26">10<tspan font-size="17" dy="-9">-2</tspan></text>
<text x="326.2" y="1311" text-anchor="middle" font-family='"Liberation Sans", sans-serif' font-weight="bold" font-size="26">10<tspan font-size="17" dy="-9">-1</tspan></text>
<text x="396.4" y="1311" text-anchor="middle" font-family='"Liberation Sans", sans-serif' font-weight="bold" font-size="26">10<tspan font-size="17" dy="-9">0</tspan></text>
<text x="466.6" y="1311" text-anchor="middle" font-family='"Liberation Sans", sans-serif' font-weight="bold" font-size="26">10<tspan font-size="17" dy="-9">1</tspan></text>
<text x="536.9" y="1311" text-anchor="middle" font-family='"Liberation Sans", sans-serif' font-weight="bold" font-size="26">10<tspan font-size="17" dy="-9">2</tspan></text>
<text x="607.1" y="1311" text-anchor="middle" font-family='"Liberation Sans", sans-serif' font-weight="bold" font-size="26">10<tspan font-size="17" dy="-9">3</tspan></text>
<text x="677.3" y="1311" text-anchor="middle" font-family='"Liberation Sans", sans-serif' font-weight="bold" font-size="26">10<tspan font-size="17" dy="-9">4</tspan></text>
<text x="747.5" y="1311" text-anchor="middle" font-family='"Liberation Sans", sans-serif' font-weight="bold" font-size="26">10<tspan font-size="17" dy="-9">5</tspan></text>
<text x="817.8" y="1311" text-anchor="middle" font-family='"Liberation Sans", sans-serif' font-weight="bold" font-size="26">10<tspan font-size="17" dy="-9">6</tspan></text>
<text x="888.0" y="1311" text-anchor="middle" font-family='"Liberation Sans", sans-serif' font-weight="bold" font-size="26">10<tspan font-size="17" dy="-9">7</tspan></text>
<text x="408" y="1360.2" font-family='"Liberation Sans", sans-serif' font-weight="bold" font-size="27">Neutron Energy [eV]</text>
<text transform="translate(102.3,1169) rotate(-90)" font-family='"Liberation Sans", sans-serif' font-weight="bold" font-size="27">Ratio of Neutron Fluxes</text>
<text x="195" y="822.3" font-family='"Liberation Serif", serif' font-size="50" stroke="#000" stroke-width="0.6">(b)</text>
<ellipse cx="221.3" cy="1158.7" rx="7.7" ry="7.2" fill="none" stroke="#000" stroke-width="2.2"/>
<path d="M212.3,1207.7 L229,1207.7 L220.65,1221.3 Z" fill="none" stroke="#00B050" stroke-width="2.2"/>
<g font-family='"Liberation Sans", sans-serif' font-size="27" fill="#000" text-anchor="middle">
<text x="261.2" y="1166" stroke="#000" stroke-width="1.2">Φ</text>
<text x="281.6" y="1166" stroke="#000" stroke-width="0.3">(</text>
<text x="295.6" y="1166" stroke="#000" stroke-width="0.9">X</text>
<text x="344.9" y="1166" stroke="#000" stroke-width="0.7">1</text>
<text x="359.3" y="1166" stroke="#000" stroke-width="0.7">0</text>
<text x="372.5" y="1166" stroke="#000" stroke-width="0.3">)</text>
<text x="406.9" y="1166" stroke="#000" stroke-width="1.2">Φ</text>
<text x="427.5" y="1166" stroke="#000" stroke-width="0.3">(</text>
<text x="440.9" y="1166" stroke="#000" stroke-width="0.9">X</text>
<text x="476.5" y="1166" stroke="#000" stroke-width="0.7">0</text>
<text x="490.6" y="1166" stroke="#000" stroke-width="0.3">)</text>
</g>
<g fill="#000"><rect x="306.8" y="1156.4" width="15.9" height="2.4"/><rect x="306.8" y="1161.4" width="15.9" height="2.4"/><rect x="327.2" y="1157.2" width="8.3" height="2.6"/><rect x="452.2" y="1156.4" width="15.8" height="2.4"/><rect x="452.2" y="1161.4" width="15.8" height="2.4"/></g>
<line x1="380.6" y1="1170" x2="391.9" y2="1144.5" stroke="#000" stroke-width="2.2"/>
<g font-family='"Liberation Sans", sans-serif' font-size="27" fill="#00B050" text-anchor="middle">
<text x="261.2" y="1222.5" stroke="#00B050" stroke-width="1.6">Φ</text>
<text x="281.6" y="1222.5" stroke="#00B050" stroke-width="0.5">(</text>
<text x="295.6" y="1222.5" stroke="#00B050" stroke-width="1.3">X</text>
<text x="353.8" y="1222.5" stroke="#00B050" stroke-width="1.2">1</text>
<text x="368.2" y="1222.5" stroke="#00B050" stroke-width="1.2">0</text>
<text x="381.5" y="1222.5" stroke="#00B050" stroke-width="0.5">)</text>
<text x="415.4" y="1222.5" stroke="#00B050" stroke-width="1.6">Φ</text>
<text x="435.7" y="1222.5" stroke="#00B050" stroke-width="0.5">(</text>
<text x="449.8" y="1222.5" stroke="#00B050" stroke-width="1.3">X</text>
<text x="485.1" y="1222.5" stroke="#00B050" stroke-width="1.2">0</text>
<text x="498.8" y="1222.5" stroke="#00B050" stroke-width="0.5">)</text>
</g>
<g fill="#00B050"><rect x="306.8" y="1212.5" width="15.9" height="2.5"/><rect x="306.8" y="1217.3" width="15.9" height="2.5"/><rect x="460.4" y="1212.5" width="16.5" height="2.5"/><rect x="460.4" y="1217.3" width="16.5" height="2.5"/><rect x="327.2" y="1214" width="16.6" height="2.3"/><rect x="334.3" y="1206.9" width="2.3" height="16"/></g>
<line x1="389.5" y1="1226.5" x2="400.2" y2="1200.5" stroke="#00B050" stroke-width="2.4"/>
<path d="M186.4,880.4a6.0,6.0 0 1,0 12.0,0a6.0,6.0 0 1,0 -12.0,0M196.6,941.0a6.0,6.0 0 1,0 12.0,0a6.0,6.0 0 1,0 -12.0,0M182.8,948.3a6.0,6.0 0 1,0 12.0,0a6.0,6.0 0 1,0 -12.0,0M190.1,951.2a6.0,6.0 0 1,0 12.0,0a6.0,6.0 0 1,0 -12.0,0M200.3,972.4a6.0,6.0 0 1,0 12.0,0a6.0,6.0 0 1,0 -12.0,0M214.1,991.4a6.0,6.0 0 1,0 12.0,0a6.0,6.0 0 1,0 -12.0,0M193.0,1034.5a6.0,6.0 0 1,0 12.0,0a6.0,6.0 0 1,0 -12.0,0M206.8,1036.6a6.0,6.0 0 1,0 12.0,0a6.0,6.0 0 1,0 -12.0,0M217.8,1030.0a6.0,6.0 0 1,0 12.0,0a6.0,6.0 0 1,0 -12.0,0M222.2,1025.0a6.0,6.0 0 1,0 12.0,0a6.0,6.0 0 1,0 -12.0,0M229.5,1010.4a6.0,6.0 0 1,0 12.0,0a6.0,6.0 0 1,0 -12.0,0M236.8,1004.5a6.0,6.0 0 1,0 12.0,0a6.0,6.0 0 1,0 -12.0,0M248.5,1001.6a6.0,6.0 0 1,0 12.0,0a6.0,6.0 0 1,0 -12.0,0M268.9,1010.4a6.0,6.0 0 1,0 12.0,0a6.0,6.0 0 1,0 -12.0,0M279.1,1006.0a6.0,6.0 0 1,0 12.0,0a6.0,6.0 0 1,0 -12.0,0M290.8,1003.0a6.0,6.0 0 1,0 12.0,0a6.0,6.0 0 1,0 -12.0,0M351.1,951.8a6.0,6.0 0 1,0 12.0,0a6.0,6.0 0 1,0 -12.0,0M359.3,951.2a6.0,6.0 0 1,0 12.0,0a6.0,6.0 0 1,0 -12.0,0M355.2,962.4a6.0,6.0 0 1,0 12.0,0a6.0,6.0 0 1,0 -12.0,0M378.7,962.4a6.0,6.0 0 1,0 12.0,0a6.0,6.0 0 1,0 -12.0,0M386.4,963.5a6.0,6.0 0 1,0 12.0,0a6.0,6.0 0 1,0 -12.0,0M365.8,988.2a6.0,6.0 0 1,0 12.0,0a6.0,6.0 0 1,0 -12.0,0M338.1,991.8a6.0,6.0 0 1,0 12.0,0a6.0,6.0 0 1,0 -12.0,0M331.6,998.8a6.0,6.0 0 1,0 12.0,0a6.0,6.0 0 1,0 -12.0,0M344.6,998.8a6.0,6.0 0 1,0 12.0,0a6.0,6.0 0 1,0 -12.0,0M349.3,997.6a6.0,6.0 0 1,0 12.0,0a6.0,6.0 0 1,0 -12.0,0M341.6,1003.5a6.0,6.0 0 1,0 12.0,0a6.0,6.0 0 1,0 -12.0,0M383.4,997.6a6.0,6.0 0 1,0 12.0,0a6.0,6.0 0 1,0 -12.0,0M369.9,998.8a6.0,6.0 0 1,0 12.0,0a6.0,6.0 0 1,0 -12.0,0M362.2,1005.9a6.0,6.0 0 1,0 12.0,0a6.0,6.0 0 1,0 -12.0,0M375.8,1008.2a6.0,6.0 0 1,0 12.0,0a6.0,6.0 0 1,0 -12.0,0M310.5,999.4a6.0,6.0 0 1,0 12.0,0a6.0,6.0 0 1,0 -12.0,0M302.2,1004.1a6.0,6.0 0 1,0 12.0,0a6.0,6.0 0 1,0 -12.0,0M321.1,1008.2a6.0,6.0 0 1,0 12.0,0a6.0,6.0 0 1,0 -12.0,0M294.0,1008.2a6.0,6.0 0 1,0 12.0,0a6.0,6.0 0 1,0 -12.0,0M328.1,1010.6a6.0,6.0 0 1,0 12.0,0a6.0,6.0 0 1,0 -12.0,0M389.9,1020.0a6.0,6.0 0 1,0 12.0,0a6.0,6.0 0 1,0 -12.0,0M393.9,928.0a6.0,6.0 0 1,0 12.0,0a6.0,6.0 0 1,0 -12.0,0M410.9,954.2a6.0,6.0 0 1,0 12.0,0a6.0,6.0 0 1,0 -12.0,0M421.4,964.1a6.0,6.0 0 1,0 12.0,0a6.0,6.0 0 1,0 -12.0,0M453.6,961.5a6.0,6.0 0 1,0 12.0,0a6.0,6.0 0 1,0 -12.0,0M456.3,961.5a6.0,6.0 0 1,0 12.0,0a6.0,6.0 0 1,0 -12.0,0M497.7,937.2a6.0,6.0 0 1,0 12.0,0a6.0,6.0 0 1,0 -12.0,0M486.5,945.0a6.0,6.0 0 1,0 12.0,0a6.0,6.0 0 1,0 -12.0,0M479.9,950.3a6.0,6.0 0 1,0 12.0,0a6.0,6.0 0 1,0 -12.0,0M490.4,956.2a6.0,6.0 0 1,0 12.0,0a6.0,6.0 0 1,0 -12.0,0M476.0,958.8a6.0,6.0 0 1,0 12.0,0a6.0,6.0 0 1,0 -12.0,0M473.3,968.0a6.0,6.0 0 1,0 12.0,0a6.0,6.0 0 1,0 -12.0,0M417.5,979.9a6.0,6.0 0 1,0 12.0,0a6.0,6.0 0 1,0 -12.0,0M430.6,975.9a6.0,6.0 0 1,0 12.0,0a6.0,6.0 0 1,0 -12.0,0M449.0,980.5a6.0,6.0 0 1,0 12.0,0a6.0,6.0 0 1,0 -12.0,0M466.8,981.2a6.0,6.0 0 1,0 12.0,0a6.0,6.0 0 1,0 -12.0,0M483.2,980.5a6.0,6.0 0 1,0 12.0,0a6.0,6.0 0 1,0 -12.0,0M405.7,989.7a6.0,6.0 0 1,0 12.0,0a6.0,6.0 0 1,0 -12.0,0M402.4,991.0a6.0,6.0 0 1,0 12.0,0a6.0,6.0 0 1,0 -12.0,0M414.2,995.6a6.0,6.0 0 1,0 12.0,0a6.0,6.0 0 1,0 -12.0,0M434.6,986.4a6.0,6.0 0 1,0 12.0,0a6.0,6.0 0 1,0 -12.0,0M441.2,994.3a6.0,6.0 0 1,0 12.0,0a6.0,6.0 0 1,0 -12.0,0M445.8,996.9a6.0,6.0 0 1,0 12.0,0a6.0,6.0 0 1,0 -12.0,0M458.9,993.0a6.0,6.0 0 1,0 12.0,0a6.0,6.0 0 1,0 -12.0,0M470.1,989.0a6.0,6.0 0 1,0 12.0,0a6.0,6.0 0 1,0 -12.0,0M493.7,993.0a6.0,6.0 0 1,0 12.0,0a6.0,6.0 0 1,0 -12.0,0M424.7,1002.2a6.0,6.0 0 1,0 12.0,0a6.0,6.0 0 1,0 -12.0,0M437.9,1000.2a6.0,6.0 0 1,0 12.0,0a6.0,6.0 0 1,0 -12.0,0M502.2,981.2a6.0,6.0 0 1,0 12.0,0a6.0,6.0 0 1,0 -12.0,0M499.6,1030.4a6.0,6.0 0 1,0 12.0,0a6.0,6.0 0 1,0 -12.0,0M462.8,1023.2a6.0,6.0 0 1,0 12.0,0a6.0,6.0 0 1,0 -12.0,0M399.1,1021.9a6.0,6.0 0 1,0 12.0,0a6.0,6.0 0 1,0 -12.0,0M531.6,914.7a6.0,6.0 0 1,0 12.0,0a6.0,6.0 0 1,0 -12.0,0M542.2,909.4a6.0,6.0 0 1,0 12.0,0a6.0,6.0 0 1,0 -12.0,0M562.8,907.6a6.0,6.0 0 1,0 12.0,0a6.0,6.0 0 1,0 -12.0,0M569.3,919.4a6.0,6.0 0 1,0 12.0,0a6.0,6.0 0 1,0 -12.0,0M514.6,947.6a6.0,6.0 0 1,0 12.0,0a6.0,6.0 0 1,0 -12.0,0M494.0,955.3a6.0,6.0 0 1,0 12.0,0a6.0,6.0 0 1,0 -12.0,0M538.7,957.6a6.0,6.0 0 1,0 12.0,0a6.0,6.0 0 1,0 -12.0,0M548.1,960.0a6.0,6.0 0 1,0 12.0,0a6.0,6.0 0 1,0 -12.0,0M559.3,954.1a6.0,6.0 0 1,0 12.0,0a6.0,6.0 0 1,0 -12.0,0M545.8,964.7a6.0,6.0 0 1,0 12.0,0a6.0,6.0 0 1,0 -12.0,0M577.5,955.3a6.0,6.0 0 1,0 12.0,0a6.0,6.0 0 1,0 -12.0,0M579.9,957.6a6.0,6.0 0 1,0 12.0,0a6.0,6.0 0 1,0 -12.0,0M590.5,960.0a6.0,6.0 0 1,0 12.0,0a6.0,6.0 0 1,0 -12.0,0M600.5,950.6a6.0,6.0 0 1,0 12.0,0a6.0,6.0 0 1,0 -12.0,0M614.0,940.0a6.0,6.0 0 1,0 12.0,0a6.0,6.0 0 1,0 -12.0,0M507.5,970.0a6.0,6.0 0 1,0 12.0,0a6.0,6.0 0 1,0 -12.0,0M524.6,965.9a6.0,6.0 0 1,0 12.0,0a6.0,6.0 0 1,0 -12.0,0M522.2,974.1a6.0,6.0 0 1,0 12.0,0a6.0,6.0 0 1,0 -12.0,0M517.5,983.5a6.0,6.0 0 1,0 12.0,0a6.0,6.0 0 1,0 -12.0,0M585.8,971.8a6.0,6.0 0 1,0 12.0,0a6.0,6.0 0 1,0 -12.0,0M594.0,971.2a6.0,6.0 0 1,0 12.0,0a6.0,6.0 0 1,0 -12.0,0M555.8,981.8a6.0,6.0 0 1,0 12.0,0a6.0,6.0 0 1,0 -12.0,0M565.8,987.1a6.0,6.0 0 1,0 12.0,0a6.0,6.0 0 1,0 -12.0,0M572.8,990.6a6.0,6.0 0 1,0 12.0,0a6.0,6.0 0 1,0 -12.0,0M584.0,990.0a6.0,6.0 0 1,0 12.0,0a6.0,6.0 0 1,0 -12.0,0M606.9,983.5a6.0,6.0 0 1,0 12.0,0a6.0,6.0 0 1,0 -12.0,0M612.8,984.7a6.0,6.0 0 1,0 12.0,0a6.0,6.0 0 1,0 -12.0,0M495.8,992.4a6.0,6.0 0 1,0 12.0,0a6.0,6.0 0 1,0 -12.0,0M528.1,992.4a6.0,6.0 0 1,0 12.0,0a6.0,6.0 0 1,0 -12.0,0M535.2,994.7a6.0,6.0 0 1,0 12.0,0a6.0,6.0 0 1,0 -12.0,0M604.6,1003.5a6.0,6.0 0 1,0 12.0,0a6.0,6.0 0 1,0 -12.0,0M596.9,1010.0a6.0,6.0 0 1,0 12.0,0a6.0,6.0 0 1,0 -12.0,0M610.5,1007.0a6.0,6.0 0 1,0 12.0,0a6.0,6.0 0 1,0 -12.0,0M511.6,1021.2a6.0,6.0 0 1,0 12.0,0a6.0,6.0 0 1,0 -12.0,0M552.2,1021.2a6.0,6.0 0 1,0 12.0,0a6.0,6.0 0 1,0 -12.0,0M723.6,894.8a6.0,6.0 0 1,0 12.0,0a6.0,6.0 0 1,0 -12.0,0M697.9,917.8a6.0,6.0 0 1,0 12.0,0a6.0,6.0 0 1,0 -12.0,0M621.7,925.0a6.0,6.0 0 1,0 12.0,0a6.0,6.0 0 1,0 -12.0,0M629.6,929.6a6.0,6.0 0 1,0 12.0,0a6.0,6.0 0 1,0 -12.0,0M632.2,928.3a6.0,6.0 0 1,0 12.0,0a6.0,6.0 0 1,0 -12.0,0M652.6,925.0a6.0,6.0 0 1,0 12.0,0a6.0,6.0 0 1,0 -12.0,0M659.8,931.0a6.0,6.0 0 1,0 12.0,0a6.0,6.0 0 1,0 -12.0,0M680.2,923.7a6.0,6.0 0 1,0 12.0,0a6.0,6.0 0 1,0 -12.0,0M676.3,929.6a6.0,6.0 0 1,0 12.0,0a6.0,6.0 0 1,0 -12.0,0M683.5,931.6a6.0,6.0 0 1,0 12.0,0a6.0,6.0 0 1,0 -12.0,0M618.5,940.1a6.0,6.0 0 1,0 12.0,0a6.0,6.0 0 1,0 -12.0,0M646.0,940.8a6.0,6.0 0 1,0 12.0,0a6.0,6.0 0 1,0 -12.0,0M639.5,944.7a6.0,6.0 0 1,0 12.0,0a6.0,6.0 0 1,0 -12.0,0M642.1,952.0a6.0,6.0 0 1,0 12.0,0a6.0,6.0 0 1,0 -12.0,0M656.6,946.1a6.0,6.0 0 1,0 12.0,0a6.0,6.0 0 1,0 -12.0,0M663.1,952.6a6.0,6.0 0 1,0 12.0,0a6.0,6.0 0 1,0 -12.0,0M673.6,944.7a6.0,6.0 0 1,0 12.0,0a6.0,6.0 0 1,0 -12.0,0M694.7,947.4a6.0,6.0 0 1,0 12.0,0a6.0,6.0 0 1,0 -12.0,0M711.7,940.1a6.0,6.0 0 1,0 12.0,0a6.0,6.0 0 1,0 -12.0,0M718.3,954.6a6.0,6.0 0 1,0 12.0,0a6.0,6.0 0 1,0 -12.0,0M604.0,950.7a6.0,6.0 0 1,0 12.0,0a6.0,6.0 0 1,0 -12.0,0M635.5,967.7a6.0,6.0 0 1,0 12.0,0a6.0,6.0 0 1,0 -12.0,0M649.3,966.4a6.0,6.0 0 1,0 12.0,0a6.0,6.0 0 1,0 -12.0,0M669.7,973.0a6.0,6.0 0 1,0 12.0,0a6.0,6.0 0 1,0 -12.0,0M690.7,963.8a6.0,6.0 0 1,0 12.0,0a6.0,6.0 0 1,0 -12.0,0M701.2,961.8a6.0,6.0 0 1,0 12.0,0a6.0,6.0 0 1,0 -12.0,0M708.5,961.8a6.0,6.0 0 1,0 12.0,0a6.0,6.0 0 1,0 -12.0,0M715.7,976.3a6.0,6.0 0 1,0 12.0,0a6.0,6.0 0 1,0 -12.0,0M687.4,978.2a6.0,6.0 0 1,0 12.0,0a6.0,6.0 0 1,0 -12.0,0M704.5,985.5a6.0,6.0 0 1,0 12.0,0a6.0,6.0 0 1,0 -12.0,0M625.0,980.9a6.0,6.0 0 1,0 12.0,0a6.0,6.0 0 1,0 -12.0,0M666.4,994.0a6.0,6.0 0 1,0 12.0,0a6.0,6.0 0 1,0 -12.0,0M606.6,1001.2a6.0,6.0 0 1,0 12.0,0a6.0,6.0 0 1,0 -12.0,0M729.1,885.0a6.0,6.0 0 1,0 12.0,0a6.0,6.0 0 1,0 -12.0,0M770.5,886.3a6.0,6.0 0 1,0 12.0,0a6.0,6.0 0 1,0 -12.0,0M735.7,915.2a6.0,6.0 0 1,0 12.0,0a6.0,6.0 0 1,0 -12.0,0M780.4,916.5a6.0,6.0 0 1,0 12.0,0a6.0,6.0 0 1,0 -12.0,0M790.9,921.8a6.0,6.0 0 1,0 12.0,0a6.0,6.0 0 1,0 -12.0,0M815.2,923.1a6.0,6.0 0 1,0 12.0,0a6.0,6.0 0 1,0 -12.0,0M760.0,923.7a6.0,6.0 0 1,0 12.0,0a6.0,6.0 0 1,0 -12.0,0M746.2,938.2a6.0,6.0 0 1,0 12.0,0a6.0,6.0 0 1,0 -12.0,0M773.8,947.4a6.0,6.0 0 1,0 12.0,0a6.0,6.0 0 1,0 -12.0,0M811.9,942.1a6.0,6.0 0 1,0 12.0,0a6.0,6.0 0 1,0 -12.0,0M822.4,948.0a6.0,6.0 0 1,0 12.0,0a6.0,6.0 0 1,0 -12.0,0M804.7,955.9a6.0,6.0 0 1,0 12.0,0a6.0,6.0 0 1,0 -12.0,0M824.4,958.5a6.0,6.0 0 1,0 12.0,0a6.0,6.0 0 1,0 -12.0,0M832.2,957.2a6.0,6.0 0 1,0 12.0,0a6.0,6.0 0 1,0 -12.0,0M832.9,966.4a6.0,6.0 0 1,0 12.0,0a6.0,6.0 0 1,0 -12.0,0M714.0,940.1a6.0,6.0 0 1,0 12.0,0a6.0,6.0 0 1,0 -12.0,0M721.2,950.7a6.0,6.0 0 1,0 12.0,0a6.0,6.0 0 1,0 -12.0,0M752.8,963.1a6.0,6.0 0 1,0 12.0,0a6.0,6.0 0 1,0 -12.0,0M732.4,970.4a6.0,6.0 0 1,0 12.0,0a6.0,6.0 0 1,0 -12.0,0M797.4,977.6a6.0,6.0 0 1,0 12.0,0a6.0,6.0 0 1,0 -12.0,0M808.6,977.6a6.0,6.0 0 1,0 12.0,0a6.0,6.0 0 1,0 -12.0,0M749.5,987.4a6.0,6.0 0 1,0 12.0,0a6.0,6.0 0 1,0 -12.0,0M818.5,997.3a6.0,6.0 0 1,0 12.0,0a6.0,6.0 0 1,0 -12.0,0M794.1,1005.2a6.0,6.0 0 1,0 12.0,0a6.0,6.0 0 1,0 -12.0,0M829.0,1011.1a6.0,6.0 0 1,0 12.0,0a6.0,6.0 0 1,0 -12.0,0M739.0,1017.7a6.0,6.0 0 1,0 12.0,0a6.0,6.0 0 1,0 -12.0,0M763.3,1015.0a6.0,6.0 0 1,0 12.0,0a6.0,6.0 0 1,0 -12.0,0M777.1,1015.7a6.0,6.0 0 1,0 12.0,0a6.0,6.0 0 1,0 -12.0,0M801.4,1015.0a6.0,6.0 0 1,0 12.0,0a6.0,6.0 0 1,0 -12.0,0M756.0,1032.1a6.0,6.0 0 1,0 12.0,0a6.0,6.0 0 1,0 -12.0,0M767.2,1030.8a6.0,6.0 0 1,0 12.0,0a6.0,6.0 0 1,0 -12.0,0M785.6,1034.7a6.0,6.0 0 1,0 12.0,0a6.0,6.0 0 1,0 -12.0,0M742.2,1075.3a6.0,6.0 0 1,0 12.0,0a6.0,6.0 0 1,0 -12.0,0M835.7,966.2a6.0,6.0 0 1,0 12.0,0a6.0,6.0 0 1,0 -12.0,0M846.9,964.2a6.0,6.0 0 1,0 12.0,0a6.0,6.0 0 1,0 -12.0,0M853.0,963.2a6.0,6.0 0 1,0 12.0,0a6.0,6.0 0 1,0 -12.0,0M846.4,972.4a6.0,6.0 0 1,0 12.0,0a6.0,6.0 0 1,0 -12.0,0M863.3,970.3a6.0,6.0 0 1,0 12.0,0a6.0,6.0 0 1,0 -12.0,0M866.3,957.0a6.0,6.0 0 1,0 12.0,0a6.0,6.0 0 1,0 -12.0,0M874.5,956.0a6.0,6.0 0 1,0 12.0,0a6.0,6.0 0 1,0 -12.0,0M877.0,970.3a6.0,6.0 0 1,0 12.0,0a6.0,6.0 0 1,0 -12.0,0M856.6,991.8a6.0,6.0 0 1,0 12.0,0a6.0,6.0 0 1,0 -12.0,0M870.4,991.8a6.0,6.0 0 1,0 12.0,0a6.0,6.0 0 1,0 -12.0,0M839.2,1006.9a6.0,6.0 0 1,0 12.0,0a6.0,6.0 0 1,0 -12.0,0M842.8,1005.3a6.0,6.0 0 1,0 12.0,0a6.0,6.0 0 1,0 -12.0,0M860.2,1022.7a6.0,6.0 0 1,0 12.0,0a6.0,6.0 0 1,0 -12.0,0M882.7,1090.1a6.0,6.0 0 1,0 12.0,0a6.0,6.0 0 1,0 -12.0,0M256.4,1010.6a6.0,6.0 0 1,0 12.0,0a6.0,6.0 0 1,0 -12.0,0M244.6,1027.0a6.0,6.0 0 1,0 12.0,0a6.0,6.0 0 1,0 -12.0,0M238.0,1007.7a6.0,6.0 0 1,0 12.0,0a6.0,6.0 0 1,0 -12.0,0M242.6,1008.2a6.0,6.0 0 1,0 12.0,0a6.0,6.0 0 1,0 -12.0,0M247.2,1010.2a6.0,6.0 0 1,0 12.0,0a6.0,6.0 0 1,0 -12.0,0M251.8,1007.2a6.0,6.0 0 1,0 12.0,0a6.0,6.0 0 1,0 -12.0,0M256.4,1007.3a6.0,6.0 0 1,0 12.0,0a6.0,6.0 0 1,0 -12.0,0M261.0,1007.6a6.0,6.0 0 1,0 12.0,0a6.0,6.0 0 1,0 -12.0,0M265.6,1005.0a6.0,6.0 0 1,0 12.0,0a6.0,6.0 0 1,0 -12.0,0M270.2,1006.8a6.0,6.0 0 1,0 12.0,0a6.0,6.0 0 1,0 -12.0,0M274.8,1007.3a6.0,6.0 0 1,0 12.0,0a6.0,6.0 0 1,0 -12.0,0M279.4,1008.1a6.0,6.0 0 1,0 12.0,0a6.0,6.0 0 1,0 -12.0,0M284.0,1003.7a6.0,6.0 0 1,0 12.0,0a6.0,6.0 0 1,0 -12.0,0M288.6,1004.8a6.0,6.0 0 1,0 12.0,0a6.0,6.0 0 1,0 -12.0,0M293.2,1003.3a6.0,6.0 0 1,0 12.0,0a6.0,6.0 0 1,0 -12.0,0M297.8,1007.5a6.0,6.0 0 1,0 12.0,0a6.0,6.0 0 1,0 -12.0,0M302.4,1006.6a6.0,6.0 0 1,0 12.0,0a6.0,6.0 0 1,0 -12.0,0M307.0,1002.5a6.0,6.0 0 1,0 12.0,0a6.0,6.0 0 1,0 -12.0,0M311.6,1007.9a6.0,6.0 0 1,0 12.0,0a6.0,6.0 0 1,0 -12.0,0M316.2,1007.7a6.0,6.0 0 1,0 12.0,0a6.0,6.0 0 1,0 -12.0,0M320.8,1005.6a6.0,6.0 0 1,0 12.0,0a6.0,6.0 0 1,0 -12.0,0M325.4,1005.2a6.0,6.0 0 1,0 12.0,0a6.0,6.0 0 1,0 -12.0,0M330.0,1002.3a6.0,6.0 0 1,0 12.0,0a6.0,6.0 0 1,0 -12.0,0M334.6,1001.2a6.0,6.0 0 1,0 12.0,0a6.0,6.0 0 1,0 -12.0,0" fill="none" stroke="#000" stroke-width="2.6"/>
<line x1="188.8" y1="1017.9" x2="886.8" y2="1017.9" stroke="#FF0000" stroke-width="7.8" stroke-linecap="round"/>
<path d="M197.2,893.3L208.0,893.3L202.6,903.2ZM189.9,912.3L200.7,912.3L195.3,922.2ZM200.9,967.8L211.7,967.8L206.3,977.7ZM214.7,984.6L225.5,984.6L220.1,994.5ZM187.0,1000.6L197.8,1000.6L192.4,1010.5ZM193.6,1015.2L204.4,1015.2L199.0,1025.1ZM204.5,1011.6L215.3,1011.6L209.9,1021.5ZM208.2,1023.3L219.0,1023.3L213.6,1033.2ZM183.4,1042.2L194.2,1042.2L188.8,1052.1ZM211.1,1048.8L221.9,1048.8L216.5,1058.7ZM218.4,1041.5L229.2,1041.5L223.8,1051.4ZM228.6,1037.1L239.4,1037.1L234.0,1047.0ZM235.9,1043.7L246.7,1043.7L241.3,1053.6ZM224.2,1011.6L235.0,1011.6L229.6,1021.5ZM232.3,1005.7L243.1,1005.7L237.7,1015.6ZM249.1,1002.8L259.9,1002.8L254.5,1012.7ZM221.1,1063.2L231.9,1063.2L226.5,1073.1ZM369.3,1038.5L380.1,1038.5L374.7,1048.4ZM358.7,1032.6L369.5,1032.6L364.1,1042.5ZM355.8,1046.7L366.6,1046.7L361.2,1056.6ZM348.7,1057.3L359.5,1057.3L354.1,1067.2ZM361.7,1066.7L372.5,1066.7L367.1,1076.6ZM374.6,1074.9L385.4,1074.9L380.0,1084.8ZM384.0,1079.6L394.8,1079.6L389.4,1089.5ZM387.6,1052.6L398.4,1052.6L393.0,1062.5ZM378.1,1063.1L388.9,1063.1L383.5,1073.0ZM389.9,1065.5L400.7,1065.5L395.3,1075.4ZM394.6,1039.6L405.4,1039.6L400.0,1049.5ZM345.2,1026.7L356.0,1026.7L350.6,1036.6ZM335.8,1027.9L346.6,1027.9L341.2,1037.8ZM321.7,1032.6L332.5,1032.6L327.1,1042.5ZM308.7,1027.9L319.5,1027.9L314.1,1037.8ZM297.0,1031.4L307.8,1031.4L302.4,1041.3ZM279.9,1029.1L290.7,1029.1L285.3,1039.0ZM305.2,1013.7L316.0,1013.7L310.6,1023.6ZM314.6,1017.3L325.4,1017.3L320.0,1027.2ZM327.5,1020.8L338.3,1020.8L332.9,1030.7ZM340.5,1023.1L351.3,1023.1L345.9,1033.0ZM252.2,1027.9L263.0,1027.9L257.6,1037.8ZM269.9,1025.5L280.7,1025.5L275.3,1035.4ZM412.2,1026.7L423.0,1026.7L417.6,1036.6ZM401.1,1041.4L411.9,1041.4L406.5,1051.3ZM422.2,1039.0L433.0,1039.0L427.6,1048.9ZM459.9,1021.4L470.7,1021.4L465.3,1031.3ZM487.5,1020.8L498.3,1020.8L492.9,1030.7ZM477.0,1040.2L487.8,1040.2L482.4,1050.1ZM456.4,1053.7L467.2,1053.7L461.8,1063.6ZM392.8,1058.5L403.6,1058.5L398.2,1068.4ZM387.0,1067.9L397.8,1067.9L392.4,1077.8ZM404.6,1060.8L415.4,1060.8L410.0,1070.7ZM404.6,1074.3L415.4,1074.3L410.0,1084.2ZM397.5,1081.4L408.3,1081.4L402.9,1091.3ZM415.2,1063.1L426.0,1063.1L420.6,1073.0ZM419.9,1060.8L430.7,1060.8L425.3,1070.7ZM428.1,1057.3L438.9,1057.3L433.5,1067.2ZM442.2,1065.5L453.0,1065.5L447.6,1075.4ZM431.7,1074.9L442.5,1074.9L437.1,1084.8ZM438.7,1086.7L449.5,1086.7L444.1,1096.6ZM445.8,1089.1L456.6,1089.1L451.2,1099.0ZM450.5,1076.1L461.3,1076.1L455.9,1086.0ZM455.2,1076.1L466.0,1076.1L460.6,1086.0ZM467.0,1094.9L477.8,1094.9L472.4,1104.8ZM463.4,1112.6L474.2,1112.6L468.8,1122.5ZM469.3,1071.4L480.1,1071.4L474.7,1081.3ZM474.0,1072.6L484.8,1072.6L479.4,1082.5ZM481.1,1071.4L491.9,1071.4L486.5,1081.3ZM484.6,1070.2L495.4,1070.2L490.0,1080.1ZM491.7,1071.4L502.5,1071.4L497.1,1081.3ZM497.5,1050.2L508.3,1050.2L502.9,1060.1ZM502.2,1052.6L513.0,1052.6L507.6,1062.5ZM494.6,1106.7L505.4,1106.7L500.0,1116.6ZM501.1,1109.0L511.9,1109.0L506.5,1118.9ZM429.3,1054.8L440.1,1054.8L434.7,1064.7ZM601.6,1036.1L612.4,1036.1L607.0,1046.0ZM608.7,1039.6L619.5,1039.6L614.1,1049.5ZM539.3,1043.2L550.1,1043.2L544.7,1053.1ZM549.9,1044.3L560.7,1044.3L555.3,1054.2ZM505.2,1052.6L516.0,1052.6L510.6,1062.5ZM518.1,1050.2L528.9,1050.2L523.5,1060.1ZM514.6,1056.1L525.4,1056.1L520.0,1066.0ZM532.2,1058.5L543.0,1058.5L537.6,1068.4ZM544.0,1054.9L554.8,1054.9L549.4,1064.8ZM528.7,1064.3L539.5,1064.3L534.1,1074.2ZM535.8,1069.0L546.6,1069.0L541.2,1078.9ZM577.0,1059.6L587.8,1059.6L582.4,1069.5ZM584.0,1060.8L594.8,1060.8L589.4,1070.7ZM594.6,1059.6L605.4,1059.6L600.0,1069.5ZM573.4,1070.2L584.2,1070.2L578.8,1080.1ZM511.1,1074.9L521.9,1074.9L516.5,1084.8ZM557.0,1085.5L567.8,1085.5L562.4,1095.4ZM562.8,1082.0L573.6,1082.0L568.2,1091.9ZM570.5,1090.2L581.3,1090.2L575.9,1100.1ZM598.1,1087.9L608.9,1087.9L603.5,1097.8ZM591.1,1099.6L601.9,1099.6L596.5,1109.5ZM580.5,1103.2L591.3,1103.2L585.9,1113.1ZM605.2,1110.2L616.0,1110.2L610.6,1120.1ZM525.8,1106.7L536.6,1106.7L531.2,1116.6ZM552.8,1118.5L563.6,1118.5L558.2,1128.4ZM567.0,1125.5L577.8,1125.5L572.4,1135.4ZM522.2,1126.7L533.0,1126.7L527.6,1136.6ZM587.5,1138.5L598.3,1138.5L592.9,1148.4ZM618.7,1019.6L629.5,1019.6L624.1,1029.5ZM642.8,1015.1L653.6,1015.1L648.2,1025.0ZM653.4,1034.3L664.2,1034.3L658.8,1044.2ZM698.1,1033.2L708.9,1033.2L703.5,1043.1ZM681.1,1046.7L691.9,1046.7L686.5,1056.6ZM629.3,1052.6L640.1,1052.6L634.7,1062.5ZM632.8,1056.1L643.6,1056.1L638.2,1066.0ZM657.0,1050.8L667.8,1050.8L662.4,1060.7ZM708.7,1052.6L719.5,1052.6L714.1,1062.5ZM723.4,1050.2L734.2,1050.2L728.8,1060.1ZM612.2,1059.6L623.0,1059.6L617.6,1069.5ZM646.4,1060.2L657.2,1060.2L651.8,1070.1ZM677.5,1063.2L688.3,1063.2L682.9,1073.1ZM685.8,1063.2L696.6,1063.2L691.2,1073.1ZM615.8,1069.0L626.6,1069.0L621.2,1078.9ZM649.9,1072.6L660.7,1072.6L655.3,1082.5ZM705.2,1070.2L716.0,1070.2L710.6,1080.1ZM715.8,1069.6L726.6,1069.6L721.2,1079.5ZM694.6,1076.1L705.4,1076.1L700.0,1086.0ZM664.0,1077.3L674.8,1077.3L669.4,1087.2ZM639.3,1080.8L650.1,1080.8L644.7,1090.7ZM660.5,1085.5L671.3,1085.5L665.9,1095.4ZM668.1,1086.7L678.9,1086.7L673.5,1096.6ZM687.0,1083.2L697.8,1083.2L692.4,1093.1ZM701.1,1078.5L711.9,1078.5L706.5,1088.4ZM718.7,1085.5L729.5,1085.5L724.1,1095.4ZM625.8,1087.9L636.6,1087.9L631.2,1097.8ZM691.1,1096.1L701.9,1096.1L696.5,1106.0ZM622.2,1103.7L633.0,1103.7L627.6,1113.6ZM671.1,1105.5L681.9,1105.5L676.5,1115.4ZM721.1,1102.0L731.9,1102.0L726.5,1111.9ZM636.4,1123.2L647.2,1123.2L641.8,1133.1ZM712.2,1129.6L723.0,1129.6L717.6,1139.5ZM674.0,1142.0L684.8,1142.0L679.4,1151.9ZM774.4,995.4L785.2,995.4L779.8,1005.3ZM726.4,1051.4L737.2,1051.4L731.8,1061.3ZM781.1,1046.1L791.9,1046.1L786.5,1056.0ZM791.7,1039.0L802.5,1039.0L797.1,1048.9ZM802.2,1048.5L813.0,1048.5L807.6,1058.4ZM809.9,1041.4L820.7,1041.4L815.3,1051.3ZM812.2,1051.4L823.0,1051.4L817.6,1061.3ZM805.2,1059.6L816.0,1059.6L810.6,1069.5ZM822.8,1042.6L833.6,1042.6L828.2,1052.5ZM826.4,1044.9L837.2,1044.9L831.8,1054.8ZM829.3,1069.0L840.1,1069.0L834.7,1078.9ZM746.4,1072.6L757.2,1072.6L751.8,1082.5ZM771.1,1078.5L781.9,1078.5L776.5,1088.4ZM760.5,1083.2L771.3,1083.2L765.9,1093.1ZM778.1,1083.2L788.9,1083.2L783.5,1093.1ZM795.8,1083.2L806.6,1083.2L801.2,1093.1ZM817.0,1082.0L827.8,1082.0L822.4,1091.9ZM729.3,1087.9L740.1,1087.9L734.7,1097.8ZM739.9,1091.4L750.7,1091.4L745.3,1101.3ZM767.5,1094.3L778.3,1094.3L772.9,1104.2ZM798.7,1093.7L809.5,1093.7L804.1,1103.6ZM736.4,1105.5L747.2,1105.5L741.8,1115.4ZM732.8,1111.4L743.6,1111.4L738.2,1121.3ZM785.2,1103.7L796.0,1103.7L790.6,1113.6ZM788.1,1112.6L798.9,1112.6L793.5,1122.5ZM742.8,1118.5L753.6,1118.5L748.2,1128.4ZM753.4,1117.3L764.2,1117.3L758.8,1127.2ZM765.2,1118.5L776.0,1118.5L770.6,1128.4ZM715.2,1127.9L726.0,1127.9L720.6,1137.8ZM749.9,1136.1L760.7,1136.1L755.3,1146.0ZM833.2,1015.7L844.0,1015.7L838.6,1025.6ZM864.4,1034.1L875.2,1034.1L869.8,1044.0ZM867.4,1046.4L878.2,1046.4L872.8,1056.3ZM871.0,1058.6L881.8,1058.6L876.4,1068.5ZM882.2,1066.3L893.0,1066.3L887.6,1076.2ZM847.0,1047.4L857.8,1047.4L852.4,1057.3ZM825.0,1043.3L835.8,1043.3L830.4,1053.2ZM806.6,1061.7L817.4,1061.7L812.0,1071.6ZM836.3,1056.6L847.1,1056.6L841.7,1066.5ZM839.8,1071.9L850.6,1071.9L845.2,1081.8ZM843.4,1064.8L854.2,1064.8L848.8,1074.7ZM854.6,1066.8L865.4,1066.8L860.0,1076.7ZM857.2,1076.0L868.0,1076.0L862.6,1085.9ZM850.6,1086.2L861.4,1086.2L856.0,1096.1ZM861.3,1086.2L872.1,1086.2L866.7,1096.1ZM874.1,1084.2L884.9,1084.2L879.5,1094.1ZM819.9,1081.1L830.7,1081.1L825.3,1091.0ZM878.2,1108.7L889.0,1108.7L883.6,1118.6ZM239.6,1021.4L250.4,1021.4L245.0,1031.3ZM243.6,1015.8L254.4,1015.8L249.0,1025.7ZM247.6,1017.4L258.4,1017.4L253.0,1027.3ZM251.6,1018.0L262.4,1018.0L257.0,1027.9ZM255.6,1015.5L266.4,1015.5L261.0,1025.4ZM259.6,1020.7L270.4,1020.7L265.0,1030.6ZM263.6,1020.4L274.4,1020.4L269.0,1030.3ZM267.6,1025.2L278.4,1025.2L273.0,1035.1ZM271.6,1021.3L282.4,1021.3L277.0,1031.2ZM275.6,1022.8L286.4,1022.8L281.0,1032.7ZM279.6,1021.1L290.4,1021.1L285.0,1031.0ZM283.6,1023.0L294.4,1023.0L289.0,1032.9ZM287.6,1020.6L298.4,1020.6L293.0,1030.5ZM291.6,1018.4L302.4,1018.4L297.0,1028.3ZM295.6,1027.1L306.4,1027.1L301.0,1037.0ZM299.6,1027.0L310.4,1027.0L305.0,1036.9ZM303.6,1025.2L314.4,1025.2L309.0,1035.1ZM307.6,1023.6L318.4,1023.6L313.0,1033.5ZM311.6,1018.9L322.4,1018.9L317.0,1028.8ZM315.6,1017.9L326.4,1017.9L321.0,1027.8ZM319.6,1018.6L330.4,1018.6L325.0,1028.5ZM323.6,1015.9L334.4,1015.9L329.0,1025.8ZM327.6,1024.3L338.4,1024.3L333.0,1034.2ZM331.6,1019.9L342.4,1019.9L337.0,1029.8ZM335.6,1025.3L346.4,1025.3L341.0,1035.2ZM339.6,1019.7L350.4,1019.7L345.0,1029.6Z" fill="none" stroke="#00FF00" stroke-width="3.0" stroke-linejoin="round"/>
</svg>
</body></html>
